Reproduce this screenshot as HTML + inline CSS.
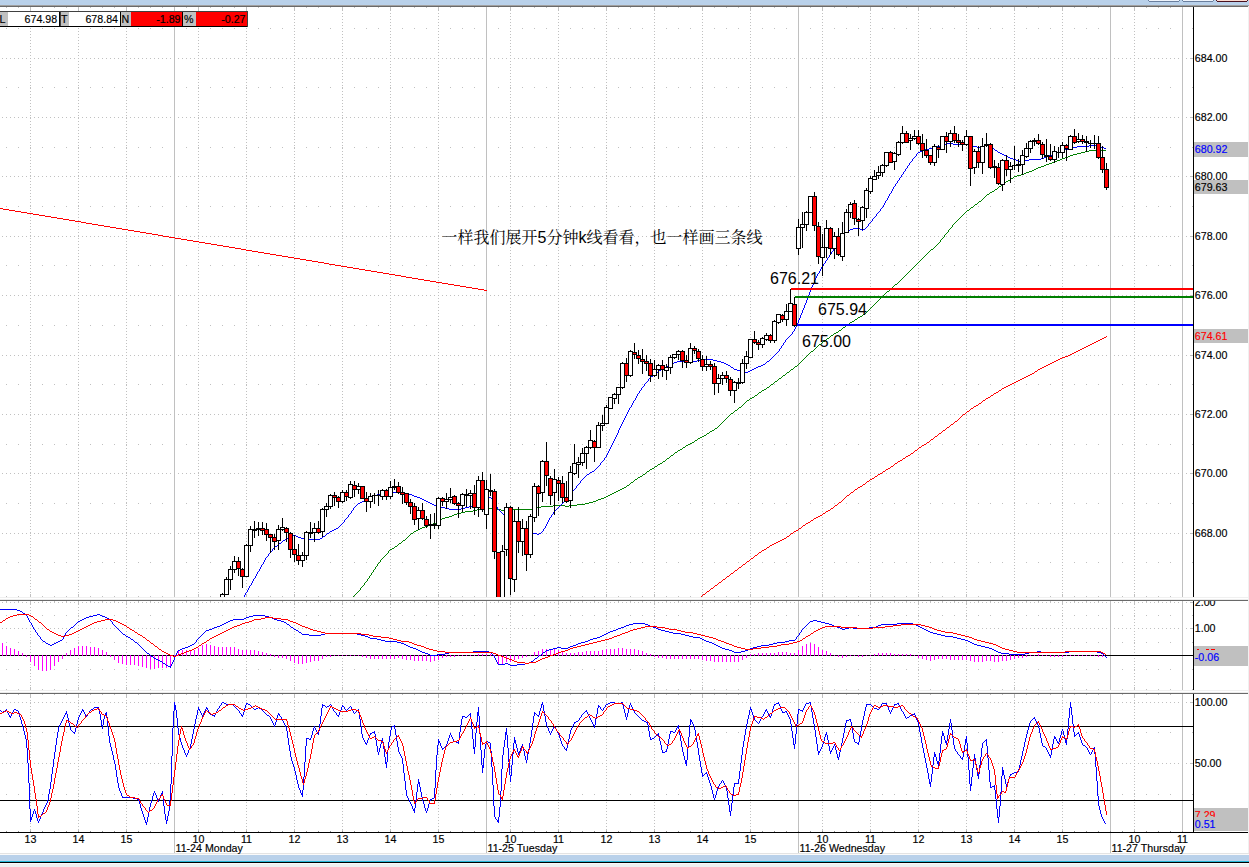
<!DOCTYPE html>
<html lang="zh"><head><meta charset="utf-8"><title>chart</title>
<style>html,body{margin:0;padding:0;background:#fff;}body{width:1249px;height:867px;overflow:hidden;}svg{display:block;}text{font-family:"Liberation Sans", Arial, sans-serif;font-size:10.67px;fill:#000;}.cj{font-family:"Liberation Sans","Noto Serif CJK SC","Noto Sans CJK SC",serif;font-size:16px;}.big{font-size:16px;}</style></head><body>
<svg width="1249" height="867" viewBox="0 0 1249 867" shape-rendering="crispEdges">
<rect x="0" y="0" width="1249" height="867" fill="#fff"/>
<line x1="30.5" y1="7" x2="30.5" y2="597" stroke="#c0c0c0" stroke-width="1" stroke-dasharray="1 2"/>
<rect x="30" y="7" width="1" height="4" fill="#c0c0c0"/>
<rect x="30" y="594" width="1" height="3" fill="#c0c0c0"/>
<line x1="78.5" y1="7" x2="78.5" y2="597" stroke="#c0c0c0" stroke-width="1" stroke-dasharray="1 2"/>
<rect x="78" y="7" width="1" height="4" fill="#c0c0c0"/>
<rect x="78" y="594" width="1" height="3" fill="#c0c0c0"/>
<line x1="126.5" y1="7" x2="126.5" y2="597" stroke="#c0c0c0" stroke-width="1" stroke-dasharray="1 2"/>
<rect x="126" y="7" width="1" height="4" fill="#c0c0c0"/>
<rect x="126" y="594" width="1" height="3" fill="#c0c0c0"/>
<line x1="198.5" y1="7" x2="198.5" y2="597" stroke="#c0c0c0" stroke-width="1" stroke-dasharray="1 2"/>
<rect x="198" y="7" width="1" height="4" fill="#c0c0c0"/>
<rect x="198" y="594" width="1" height="3" fill="#c0c0c0"/>
<line x1="246.5" y1="7" x2="246.5" y2="597" stroke="#c0c0c0" stroke-width="1" stroke-dasharray="1 2"/>
<rect x="246" y="7" width="1" height="4" fill="#c0c0c0"/>
<rect x="246" y="594" width="1" height="3" fill="#c0c0c0"/>
<line x1="294.5" y1="7" x2="294.5" y2="597" stroke="#c0c0c0" stroke-width="1" stroke-dasharray="1 2"/>
<rect x="294" y="7" width="1" height="4" fill="#c0c0c0"/>
<rect x="294" y="594" width="1" height="3" fill="#c0c0c0"/>
<line x1="342.5" y1="7" x2="342.5" y2="597" stroke="#c0c0c0" stroke-width="1" stroke-dasharray="1 2"/>
<rect x="342" y="7" width="1" height="4" fill="#c0c0c0"/>
<rect x="342" y="594" width="1" height="3" fill="#c0c0c0"/>
<line x1="390.5" y1="7" x2="390.5" y2="597" stroke="#c0c0c0" stroke-width="1" stroke-dasharray="1 2"/>
<rect x="390" y="7" width="1" height="4" fill="#c0c0c0"/>
<rect x="390" y="594" width="1" height="3" fill="#c0c0c0"/>
<line x1="438.5" y1="7" x2="438.5" y2="597" stroke="#c0c0c0" stroke-width="1" stroke-dasharray="1 2"/>
<rect x="438" y="7" width="1" height="4" fill="#c0c0c0"/>
<rect x="438" y="594" width="1" height="3" fill="#c0c0c0"/>
<line x1="510.5" y1="7" x2="510.5" y2="597" stroke="#c0c0c0" stroke-width="1" stroke-dasharray="1 2"/>
<rect x="510" y="7" width="1" height="4" fill="#c0c0c0"/>
<rect x="510" y="594" width="1" height="3" fill="#c0c0c0"/>
<line x1="558.5" y1="7" x2="558.5" y2="597" stroke="#c0c0c0" stroke-width="1" stroke-dasharray="1 2"/>
<rect x="558" y="7" width="1" height="4" fill="#c0c0c0"/>
<rect x="558" y="594" width="1" height="3" fill="#c0c0c0"/>
<line x1="606.5" y1="7" x2="606.5" y2="597" stroke="#c0c0c0" stroke-width="1" stroke-dasharray="1 2"/>
<rect x="606" y="7" width="1" height="4" fill="#c0c0c0"/>
<rect x="606" y="594" width="1" height="3" fill="#c0c0c0"/>
<line x1="654.5" y1="7" x2="654.5" y2="597" stroke="#c0c0c0" stroke-width="1" stroke-dasharray="1 2"/>
<rect x="654" y="7" width="1" height="4" fill="#c0c0c0"/>
<rect x="654" y="594" width="1" height="3" fill="#c0c0c0"/>
<line x1="702.5" y1="7" x2="702.5" y2="597" stroke="#c0c0c0" stroke-width="1" stroke-dasharray="1 2"/>
<rect x="702" y="7" width="1" height="4" fill="#c0c0c0"/>
<rect x="702" y="594" width="1" height="3" fill="#c0c0c0"/>
<line x1="750.5" y1="7" x2="750.5" y2="597" stroke="#c0c0c0" stroke-width="1" stroke-dasharray="1 2"/>
<rect x="750" y="7" width="1" height="4" fill="#c0c0c0"/>
<rect x="750" y="594" width="1" height="3" fill="#c0c0c0"/>
<line x1="822.5" y1="7" x2="822.5" y2="597" stroke="#c0c0c0" stroke-width="1" stroke-dasharray="1 2"/>
<rect x="822" y="7" width="1" height="4" fill="#c0c0c0"/>
<rect x="822" y="594" width="1" height="3" fill="#c0c0c0"/>
<line x1="870.5" y1="7" x2="870.5" y2="597" stroke="#c0c0c0" stroke-width="1" stroke-dasharray="1 2"/>
<rect x="870" y="7" width="1" height="4" fill="#c0c0c0"/>
<rect x="870" y="594" width="1" height="3" fill="#c0c0c0"/>
<line x1="918.5" y1="7" x2="918.5" y2="597" stroke="#c0c0c0" stroke-width="1" stroke-dasharray="1 2"/>
<rect x="918" y="7" width="1" height="4" fill="#c0c0c0"/>
<rect x="918" y="594" width="1" height="3" fill="#c0c0c0"/>
<line x1="966.5" y1="7" x2="966.5" y2="597" stroke="#c0c0c0" stroke-width="1" stroke-dasharray="1 2"/>
<rect x="966" y="7" width="1" height="4" fill="#c0c0c0"/>
<rect x="966" y="594" width="1" height="3" fill="#c0c0c0"/>
<line x1="1014.5" y1="7" x2="1014.5" y2="597" stroke="#c0c0c0" stroke-width="1" stroke-dasharray="1 2"/>
<rect x="1014" y="7" width="1" height="4" fill="#c0c0c0"/>
<rect x="1014" y="594" width="1" height="3" fill="#c0c0c0"/>
<line x1="1062.5" y1="7" x2="1062.5" y2="597" stroke="#c0c0c0" stroke-width="1" stroke-dasharray="1 2"/>
<rect x="1062" y="7" width="1" height="4" fill="#c0c0c0"/>
<rect x="1062" y="594" width="1" height="3" fill="#c0c0c0"/>
<line x1="1134.5" y1="7" x2="1134.5" y2="597" stroke="#c0c0c0" stroke-width="1" stroke-dasharray="1 2"/>
<rect x="1134" y="7" width="1" height="4" fill="#c0c0c0"/>
<rect x="1134" y="594" width="1" height="3" fill="#c0c0c0"/>
<line x1="6" y1="7.5" x2="1193" y2="7.5" stroke="#c0c0c0" stroke-width="1" stroke-dasharray="1 11"/>
<line x1="6" y1="596.5" x2="1193" y2="596.5" stroke="#c0c0c0" stroke-width="1" stroke-dasharray="1 11"/>
<rect x="174" y="7" width="1" height="590" fill="#c0c0c0"/>
<rect x="486" y="7" width="1" height="590" fill="#c0c0c0"/>
<rect x="798" y="7" width="1" height="590" fill="#c0c0c0"/>
<rect x="1110" y="7" width="1" height="590" fill="#c0c0c0"/>
<rect x="1182" y="7" width="1" height="590" fill="#c0c0c0"/>
<line x1="30.5" y1="601" x2="30.5" y2="690" stroke="#c0c0c0" stroke-width="1" stroke-dasharray="1 2"/>
<rect x="30" y="601" width="1" height="4" fill="#c0c0c0"/>
<rect x="30" y="687" width="1" height="3" fill="#c0c0c0"/>
<line x1="78.5" y1="601" x2="78.5" y2="690" stroke="#c0c0c0" stroke-width="1" stroke-dasharray="1 2"/>
<rect x="78" y="601" width="1" height="4" fill="#c0c0c0"/>
<rect x="78" y="687" width="1" height="3" fill="#c0c0c0"/>
<line x1="126.5" y1="601" x2="126.5" y2="690" stroke="#c0c0c0" stroke-width="1" stroke-dasharray="1 2"/>
<rect x="126" y="601" width="1" height="4" fill="#c0c0c0"/>
<rect x="126" y="687" width="1" height="3" fill="#c0c0c0"/>
<line x1="198.5" y1="601" x2="198.5" y2="690" stroke="#c0c0c0" stroke-width="1" stroke-dasharray="1 2"/>
<rect x="198" y="601" width="1" height="4" fill="#c0c0c0"/>
<rect x="198" y="687" width="1" height="3" fill="#c0c0c0"/>
<line x1="246.5" y1="601" x2="246.5" y2="690" stroke="#c0c0c0" stroke-width="1" stroke-dasharray="1 2"/>
<rect x="246" y="601" width="1" height="4" fill="#c0c0c0"/>
<rect x="246" y="687" width="1" height="3" fill="#c0c0c0"/>
<line x1="294.5" y1="601" x2="294.5" y2="690" stroke="#c0c0c0" stroke-width="1" stroke-dasharray="1 2"/>
<rect x="294" y="601" width="1" height="4" fill="#c0c0c0"/>
<rect x="294" y="687" width="1" height="3" fill="#c0c0c0"/>
<line x1="342.5" y1="601" x2="342.5" y2="690" stroke="#c0c0c0" stroke-width="1" stroke-dasharray="1 2"/>
<rect x="342" y="601" width="1" height="4" fill="#c0c0c0"/>
<rect x="342" y="687" width="1" height="3" fill="#c0c0c0"/>
<line x1="390.5" y1="601" x2="390.5" y2="690" stroke="#c0c0c0" stroke-width="1" stroke-dasharray="1 2"/>
<rect x="390" y="601" width="1" height="4" fill="#c0c0c0"/>
<rect x="390" y="687" width="1" height="3" fill="#c0c0c0"/>
<line x1="438.5" y1="601" x2="438.5" y2="690" stroke="#c0c0c0" stroke-width="1" stroke-dasharray="1 2"/>
<rect x="438" y="601" width="1" height="4" fill="#c0c0c0"/>
<rect x="438" y="687" width="1" height="3" fill="#c0c0c0"/>
<line x1="510.5" y1="601" x2="510.5" y2="690" stroke="#c0c0c0" stroke-width="1" stroke-dasharray="1 2"/>
<rect x="510" y="601" width="1" height="4" fill="#c0c0c0"/>
<rect x="510" y="687" width="1" height="3" fill="#c0c0c0"/>
<line x1="558.5" y1="601" x2="558.5" y2="690" stroke="#c0c0c0" stroke-width="1" stroke-dasharray="1 2"/>
<rect x="558" y="601" width="1" height="4" fill="#c0c0c0"/>
<rect x="558" y="687" width="1" height="3" fill="#c0c0c0"/>
<line x1="606.5" y1="601" x2="606.5" y2="690" stroke="#c0c0c0" stroke-width="1" stroke-dasharray="1 2"/>
<rect x="606" y="601" width="1" height="4" fill="#c0c0c0"/>
<rect x="606" y="687" width="1" height="3" fill="#c0c0c0"/>
<line x1="654.5" y1="601" x2="654.5" y2="690" stroke="#c0c0c0" stroke-width="1" stroke-dasharray="1 2"/>
<rect x="654" y="601" width="1" height="4" fill="#c0c0c0"/>
<rect x="654" y="687" width="1" height="3" fill="#c0c0c0"/>
<line x1="702.5" y1="601" x2="702.5" y2="690" stroke="#c0c0c0" stroke-width="1" stroke-dasharray="1 2"/>
<rect x="702" y="601" width="1" height="4" fill="#c0c0c0"/>
<rect x="702" y="687" width="1" height="3" fill="#c0c0c0"/>
<line x1="750.5" y1="601" x2="750.5" y2="690" stroke="#c0c0c0" stroke-width="1" stroke-dasharray="1 2"/>
<rect x="750" y="601" width="1" height="4" fill="#c0c0c0"/>
<rect x="750" y="687" width="1" height="3" fill="#c0c0c0"/>
<line x1="822.5" y1="601" x2="822.5" y2="690" stroke="#c0c0c0" stroke-width="1" stroke-dasharray="1 2"/>
<rect x="822" y="601" width="1" height="4" fill="#c0c0c0"/>
<rect x="822" y="687" width="1" height="3" fill="#c0c0c0"/>
<line x1="870.5" y1="601" x2="870.5" y2="690" stroke="#c0c0c0" stroke-width="1" stroke-dasharray="1 2"/>
<rect x="870" y="601" width="1" height="4" fill="#c0c0c0"/>
<rect x="870" y="687" width="1" height="3" fill="#c0c0c0"/>
<line x1="918.5" y1="601" x2="918.5" y2="690" stroke="#c0c0c0" stroke-width="1" stroke-dasharray="1 2"/>
<rect x="918" y="601" width="1" height="4" fill="#c0c0c0"/>
<rect x="918" y="687" width="1" height="3" fill="#c0c0c0"/>
<line x1="966.5" y1="601" x2="966.5" y2="690" stroke="#c0c0c0" stroke-width="1" stroke-dasharray="1 2"/>
<rect x="966" y="601" width="1" height="4" fill="#c0c0c0"/>
<rect x="966" y="687" width="1" height="3" fill="#c0c0c0"/>
<line x1="1014.5" y1="601" x2="1014.5" y2="690" stroke="#c0c0c0" stroke-width="1" stroke-dasharray="1 2"/>
<rect x="1014" y="601" width="1" height="4" fill="#c0c0c0"/>
<rect x="1014" y="687" width="1" height="3" fill="#c0c0c0"/>
<line x1="1062.5" y1="601" x2="1062.5" y2="690" stroke="#c0c0c0" stroke-width="1" stroke-dasharray="1 2"/>
<rect x="1062" y="601" width="1" height="4" fill="#c0c0c0"/>
<rect x="1062" y="687" width="1" height="3" fill="#c0c0c0"/>
<line x1="1134.5" y1="601" x2="1134.5" y2="690" stroke="#c0c0c0" stroke-width="1" stroke-dasharray="1 2"/>
<rect x="1134" y="601" width="1" height="4" fill="#c0c0c0"/>
<rect x="1134" y="687" width="1" height="3" fill="#c0c0c0"/>
<line x1="6" y1="601.5" x2="1193" y2="601.5" stroke="#c0c0c0" stroke-width="1" stroke-dasharray="1 11"/>
<line x1="6" y1="689.5" x2="1193" y2="689.5" stroke="#c0c0c0" stroke-width="1" stroke-dasharray="1 11"/>
<rect x="174" y="601" width="1" height="89" fill="#c0c0c0"/>
<rect x="486" y="601" width="1" height="89" fill="#c0c0c0"/>
<rect x="798" y="601" width="1" height="89" fill="#c0c0c0"/>
<rect x="1110" y="601" width="1" height="89" fill="#c0c0c0"/>
<rect x="1182" y="601" width="1" height="89" fill="#c0c0c0"/>
<line x1="30.5" y1="694" x2="30.5" y2="832" stroke="#c0c0c0" stroke-width="1" stroke-dasharray="1 2"/>
<rect x="30" y="694" width="1" height="4" fill="#c0c0c0"/>
<rect x="30" y="829" width="1" height="3" fill="#c0c0c0"/>
<line x1="78.5" y1="694" x2="78.5" y2="832" stroke="#c0c0c0" stroke-width="1" stroke-dasharray="1 2"/>
<rect x="78" y="694" width="1" height="4" fill="#c0c0c0"/>
<rect x="78" y="829" width="1" height="3" fill="#c0c0c0"/>
<line x1="126.5" y1="694" x2="126.5" y2="832" stroke="#c0c0c0" stroke-width="1" stroke-dasharray="1 2"/>
<rect x="126" y="694" width="1" height="4" fill="#c0c0c0"/>
<rect x="126" y="829" width="1" height="3" fill="#c0c0c0"/>
<line x1="198.5" y1="694" x2="198.5" y2="832" stroke="#c0c0c0" stroke-width="1" stroke-dasharray="1 2"/>
<rect x="198" y="694" width="1" height="4" fill="#c0c0c0"/>
<rect x="198" y="829" width="1" height="3" fill="#c0c0c0"/>
<line x1="246.5" y1="694" x2="246.5" y2="832" stroke="#c0c0c0" stroke-width="1" stroke-dasharray="1 2"/>
<rect x="246" y="694" width="1" height="4" fill="#c0c0c0"/>
<rect x="246" y="829" width="1" height="3" fill="#c0c0c0"/>
<line x1="294.5" y1="694" x2="294.5" y2="832" stroke="#c0c0c0" stroke-width="1" stroke-dasharray="1 2"/>
<rect x="294" y="694" width="1" height="4" fill="#c0c0c0"/>
<rect x="294" y="829" width="1" height="3" fill="#c0c0c0"/>
<line x1="342.5" y1="694" x2="342.5" y2="832" stroke="#c0c0c0" stroke-width="1" stroke-dasharray="1 2"/>
<rect x="342" y="694" width="1" height="4" fill="#c0c0c0"/>
<rect x="342" y="829" width="1" height="3" fill="#c0c0c0"/>
<line x1="390.5" y1="694" x2="390.5" y2="832" stroke="#c0c0c0" stroke-width="1" stroke-dasharray="1 2"/>
<rect x="390" y="694" width="1" height="4" fill="#c0c0c0"/>
<rect x="390" y="829" width="1" height="3" fill="#c0c0c0"/>
<line x1="438.5" y1="694" x2="438.5" y2="832" stroke="#c0c0c0" stroke-width="1" stroke-dasharray="1 2"/>
<rect x="438" y="694" width="1" height="4" fill="#c0c0c0"/>
<rect x="438" y="829" width="1" height="3" fill="#c0c0c0"/>
<line x1="510.5" y1="694" x2="510.5" y2="832" stroke="#c0c0c0" stroke-width="1" stroke-dasharray="1 2"/>
<rect x="510" y="694" width="1" height="4" fill="#c0c0c0"/>
<rect x="510" y="829" width="1" height="3" fill="#c0c0c0"/>
<line x1="558.5" y1="694" x2="558.5" y2="832" stroke="#c0c0c0" stroke-width="1" stroke-dasharray="1 2"/>
<rect x="558" y="694" width="1" height="4" fill="#c0c0c0"/>
<rect x="558" y="829" width="1" height="3" fill="#c0c0c0"/>
<line x1="606.5" y1="694" x2="606.5" y2="832" stroke="#c0c0c0" stroke-width="1" stroke-dasharray="1 2"/>
<rect x="606" y="694" width="1" height="4" fill="#c0c0c0"/>
<rect x="606" y="829" width="1" height="3" fill="#c0c0c0"/>
<line x1="654.5" y1="694" x2="654.5" y2="832" stroke="#c0c0c0" stroke-width="1" stroke-dasharray="1 2"/>
<rect x="654" y="694" width="1" height="4" fill="#c0c0c0"/>
<rect x="654" y="829" width="1" height="3" fill="#c0c0c0"/>
<line x1="702.5" y1="694" x2="702.5" y2="832" stroke="#c0c0c0" stroke-width="1" stroke-dasharray="1 2"/>
<rect x="702" y="694" width="1" height="4" fill="#c0c0c0"/>
<rect x="702" y="829" width="1" height="3" fill="#c0c0c0"/>
<line x1="750.5" y1="694" x2="750.5" y2="832" stroke="#c0c0c0" stroke-width="1" stroke-dasharray="1 2"/>
<rect x="750" y="694" width="1" height="4" fill="#c0c0c0"/>
<rect x="750" y="829" width="1" height="3" fill="#c0c0c0"/>
<line x1="822.5" y1="694" x2="822.5" y2="832" stroke="#c0c0c0" stroke-width="1" stroke-dasharray="1 2"/>
<rect x="822" y="694" width="1" height="4" fill="#c0c0c0"/>
<rect x="822" y="829" width="1" height="3" fill="#c0c0c0"/>
<line x1="870.5" y1="694" x2="870.5" y2="832" stroke="#c0c0c0" stroke-width="1" stroke-dasharray="1 2"/>
<rect x="870" y="694" width="1" height="4" fill="#c0c0c0"/>
<rect x="870" y="829" width="1" height="3" fill="#c0c0c0"/>
<line x1="918.5" y1="694" x2="918.5" y2="832" stroke="#c0c0c0" stroke-width="1" stroke-dasharray="1 2"/>
<rect x="918" y="694" width="1" height="4" fill="#c0c0c0"/>
<rect x="918" y="829" width="1" height="3" fill="#c0c0c0"/>
<line x1="966.5" y1="694" x2="966.5" y2="832" stroke="#c0c0c0" stroke-width="1" stroke-dasharray="1 2"/>
<rect x="966" y="694" width="1" height="4" fill="#c0c0c0"/>
<rect x="966" y="829" width="1" height="3" fill="#c0c0c0"/>
<line x1="1014.5" y1="694" x2="1014.5" y2="832" stroke="#c0c0c0" stroke-width="1" stroke-dasharray="1 2"/>
<rect x="1014" y="694" width="1" height="4" fill="#c0c0c0"/>
<rect x="1014" y="829" width="1" height="3" fill="#c0c0c0"/>
<line x1="1062.5" y1="694" x2="1062.5" y2="832" stroke="#c0c0c0" stroke-width="1" stroke-dasharray="1 2"/>
<rect x="1062" y="694" width="1" height="4" fill="#c0c0c0"/>
<rect x="1062" y="829" width="1" height="3" fill="#c0c0c0"/>
<line x1="1134.5" y1="694" x2="1134.5" y2="832" stroke="#c0c0c0" stroke-width="1" stroke-dasharray="1 2"/>
<rect x="1134" y="694" width="1" height="4" fill="#c0c0c0"/>
<rect x="1134" y="829" width="1" height="3" fill="#c0c0c0"/>
<line x1="6" y1="694.5" x2="1193" y2="694.5" stroke="#c0c0c0" stroke-width="1" stroke-dasharray="1 11"/>
<line x1="6" y1="831.5" x2="1193" y2="831.5" stroke="#c0c0c0" stroke-width="1" stroke-dasharray="1 11"/>
<rect x="174" y="694" width="1" height="138" fill="#c0c0c0"/>
<rect x="486" y="694" width="1" height="138" fill="#c0c0c0"/>
<rect x="798" y="694" width="1" height="138" fill="#c0c0c0"/>
<rect x="1110" y="694" width="1" height="138" fill="#c0c0c0"/>
<rect x="1182" y="694" width="1" height="138" fill="#c0c0c0"/>
<rect x="174" y="832" width="1" height="21" fill="#c0c0c0"/>
<rect x="486" y="832" width="1" height="21" fill="#c0c0c0"/>
<rect x="798" y="832" width="1" height="21" fill="#c0c0c0"/>
<rect x="1110" y="832" width="1" height="21" fill="#c0c0c0"/>
<line x1="6" y1="562.5" x2="1193" y2="562.5" stroke="#c0c0c0" stroke-width="1" stroke-dasharray="1 11"/>
<rect x="1192" y="562" width="1" height="1" fill="#c0c0c0"/>
<line x1="2" y1="533.5" x2="1193" y2="533.5" stroke="#c0c0c0" stroke-width="1" stroke-dasharray="1 3"/>
<rect x="1190" y="533" width="3" height="1" fill="#c0c0c0"/>
<line x1="6" y1="503.5" x2="1193" y2="503.5" stroke="#c0c0c0" stroke-width="1" stroke-dasharray="1 11"/>
<rect x="1192" y="503" width="1" height="1" fill="#c0c0c0"/>
<line x1="2" y1="473.5" x2="1193" y2="473.5" stroke="#c0c0c0" stroke-width="1" stroke-dasharray="1 3"/>
<rect x="1190" y="473" width="3" height="1" fill="#c0c0c0"/>
<line x1="6" y1="444.5" x2="1193" y2="444.5" stroke="#c0c0c0" stroke-width="1" stroke-dasharray="1 11"/>
<rect x="1192" y="444" width="1" height="1" fill="#c0c0c0"/>
<line x1="2" y1="414.5" x2="1193" y2="414.5" stroke="#c0c0c0" stroke-width="1" stroke-dasharray="1 3"/>
<rect x="1190" y="414" width="3" height="1" fill="#c0c0c0"/>
<line x1="6" y1="384.5" x2="1193" y2="384.5" stroke="#c0c0c0" stroke-width="1" stroke-dasharray="1 11"/>
<rect x="1192" y="384" width="1" height="1" fill="#c0c0c0"/>
<line x1="2" y1="355.5" x2="1193" y2="355.5" stroke="#c0c0c0" stroke-width="1" stroke-dasharray="1 3"/>
<rect x="1190" y="355" width="3" height="1" fill="#c0c0c0"/>
<line x1="6" y1="325.5" x2="1193" y2="325.5" stroke="#c0c0c0" stroke-width="1" stroke-dasharray="1 11"/>
<rect x="1192" y="325" width="1" height="1" fill="#c0c0c0"/>
<line x1="2" y1="295.5" x2="1193" y2="295.5" stroke="#c0c0c0" stroke-width="1" stroke-dasharray="1 3"/>
<rect x="1190" y="295" width="3" height="1" fill="#c0c0c0"/>
<line x1="6" y1="265.5" x2="1193" y2="265.5" stroke="#c0c0c0" stroke-width="1" stroke-dasharray="1 11"/>
<rect x="1192" y="265" width="1" height="1" fill="#c0c0c0"/>
<line x1="2" y1="236.5" x2="1193" y2="236.5" stroke="#c0c0c0" stroke-width="1" stroke-dasharray="1 3"/>
<rect x="1190" y="236" width="3" height="1" fill="#c0c0c0"/>
<line x1="6" y1="206.5" x2="1193" y2="206.5" stroke="#c0c0c0" stroke-width="1" stroke-dasharray="1 11"/>
<rect x="1192" y="206" width="1" height="1" fill="#c0c0c0"/>
<line x1="2" y1="176.5" x2="1193" y2="176.5" stroke="#c0c0c0" stroke-width="1" stroke-dasharray="1 3"/>
<rect x="1190" y="176" width="3" height="1" fill="#c0c0c0"/>
<line x1="6" y1="147.5" x2="1193" y2="147.5" stroke="#c0c0c0" stroke-width="1" stroke-dasharray="1 11"/>
<rect x="1192" y="147" width="1" height="1" fill="#c0c0c0"/>
<line x1="2" y1="117.5" x2="1193" y2="117.5" stroke="#c0c0c0" stroke-width="1" stroke-dasharray="1 3"/>
<rect x="1190" y="117" width="3" height="1" fill="#c0c0c0"/>
<line x1="6" y1="87.5" x2="1193" y2="87.5" stroke="#c0c0c0" stroke-width="1" stroke-dasharray="1 11"/>
<rect x="1192" y="87" width="1" height="1" fill="#c0c0c0"/>
<line x1="2" y1="58.5" x2="1193" y2="58.5" stroke="#c0c0c0" stroke-width="1" stroke-dasharray="1 3"/>
<rect x="1190" y="58" width="3" height="1" fill="#c0c0c0"/>
<line x1="6" y1="28.5" x2="1193" y2="28.5" stroke="#c0c0c0" stroke-width="1" stroke-dasharray="1 11"/>
<rect x="1192" y="28" width="1" height="1" fill="#c0c0c0"/>
<line x1="6" y1="7.5" x2="1193" y2="7.5" stroke="#c0c0c0" stroke-width="1" stroke-dasharray="1 11"/>
<line x1="6" y1="596.5" x2="1193" y2="596.5" stroke="#c0c0c0" stroke-width="1" stroke-dasharray="1 11"/>
<line x1="2" y1="602.5" x2="1193" y2="602.5" stroke="#c0c0c0" stroke-width="1" stroke-dasharray="1 3"/>
<rect x="1190" y="602" width="3" height="1" fill="#c0c0c0"/>
<line x1="6" y1="615.5" x2="1193" y2="615.5" stroke="#c0c0c0" stroke-width="1" stroke-dasharray="1 11"/>
<rect x="1192" y="615" width="1" height="1" fill="#c0c0c0"/>
<line x1="2" y1="628.5" x2="1193" y2="628.5" stroke="#c0c0c0" stroke-width="1" stroke-dasharray="1 3"/>
<rect x="1190" y="628" width="3" height="1" fill="#c0c0c0"/>
<line x1="6" y1="642.5" x2="1193" y2="642.5" stroke="#c0c0c0" stroke-width="1" stroke-dasharray="1 11"/>
<rect x="1192" y="642" width="1" height="1" fill="#c0c0c0"/>
<line x1="6" y1="669.5" x2="1193" y2="669.5" stroke="#c0c0c0" stroke-width="1" stroke-dasharray="1 11"/>
<rect x="1192" y="669" width="1" height="1" fill="#c0c0c0"/>
<line x1="6" y1="689.5" x2="1193" y2="689.5" stroke="#c0c0c0" stroke-width="1" stroke-dasharray="1 11"/>
<rect x="1192" y="689" width="1" height="1" fill="#c0c0c0"/>
<line x1="2" y1="702.5" x2="1193" y2="702.5" stroke="#c0c0c0" stroke-width="1" stroke-dasharray="1 3"/>
<rect x="1190" y="702" width="3" height="1" fill="#c0c0c0"/>
<line x1="6" y1="732.5" x2="1193" y2="732.5" stroke="#c0c0c0" stroke-width="1" stroke-dasharray="1 11"/>
<rect x="1192" y="732" width="1" height="1" fill="#c0c0c0"/>
<line x1="2" y1="763.5" x2="1193" y2="763.5" stroke="#c0c0c0" stroke-width="1" stroke-dasharray="1 3"/>
<rect x="1190" y="763" width="3" height="1" fill="#c0c0c0"/>
<line x1="6" y1="794.5" x2="1193" y2="794.5" stroke="#c0c0c0" stroke-width="1" stroke-dasharray="1 11"/>
<rect x="1192" y="794" width="1" height="1" fill="#c0c0c0"/>
<line x1="6" y1="831.5" x2="1193" y2="831.5" stroke="#909090" stroke-width="1" stroke-dasharray="1 11"/>
<clipPath id="cp1"><rect x="0" y="7" width="1193" height="590"/></clipPath>
<g clip-path="url(#cp1)">
<path fill="none" stroke="#ff0000" stroke-width="1" d="M0 208.5h3M3 209.5h6M9 210.5h6M15 211.5h6M21 212.5h6M27 213.5h6M33 214.5h6M39 215.5h6M45 216.5h6M51 217.5h6M57 218.5h6M63 219.5h6M69 220.5h6M75 221.5h6M81 222.5h5M86 223.5h6M92 224.5h6M98 225.5h6M104 226.5h6M110 227.5h6M116 228.5h6M122 229.5h6M128 230.5h6M134 231.5h6M140 232.5h6M146 233.5h6M152 234.5h6M158 235.5h5M163 236.5h6M169 237.5h6M175 238.5h6M181 239.5h6M187 240.5h6M193 241.5h6M199 242.5h6M205 243.5h6M211 244.5h6M217 245.5h6M223 246.5h6M229 247.5h6M235 248.5h6M241 249.5h5M246 250.5h6M252 251.5h6M258 252.5h6M264 253.5h6M270 254.5h6M276 255.5h6M282 256.5h6M288 257.5h6M294 258.5h6M300 259.5h6M306 260.5h6M312 261.5h6M318 262.5h6M324 263.5h5M329 264.5h6M335 265.5h6M341 266.5h6M347 267.5h6M353 268.5h6M359 269.5h6M365 270.5h6M371 271.5h6M377 272.5h6M383 273.5h6M389 274.5h6M395 275.5h6M401 276.5h5M406 277.5h6M412 278.5h6M418 279.5h6M424 280.5h6M430 281.5h6M436 282.5h6M442 283.5h6M448 284.5h6M454 285.5h6M460 286.5h6M466 287.5h6M472 288.5h6M478 289.5h6M484 290.5h3"/>
<path fill="none" stroke="#ff0000" stroke-width="1" d="M701 596.5h1M702 595.5h1M703 594.5h2M705 593.5h1M706 592.5h1M707 591.5h2M709 590.5h1M710 589.5h1M711 588.5h2M713 587.5h1M714 586.5h1M715 585.5h2M717 584.5h1M718 583.5h1M719 582.5h2M721 581.5h1M722 580.5h1M723 579.5h2M725 578.5h1M726 577.5h1M727 576.5h2M729 575.5h1M730 574.5h1M731 573.5h2M733 572.5h1M734 571.5h1M735 570.5h2M737 569.5h1M738 568.5h1M739 567.5h2M741 566.5h1M742 565.5h1M743 564.5h2M745 563.5h1M746 562.5h1M747 561.5h2M749 560.5h1M750 559.5h1M751 558.5h2M753 557.5h1M754 556.5h1M755 555.5h2M757 554.5h1M758 553.5h1M759 552.5h2M761 551.5h1M762 550.5h2M764 549.5h2M766 548.5h1M767 547.5h2M769 546.5h1M770 545.5h2M772 544.5h2M774 543.5h2M776 542.5h2M778 541.5h2M780 540.5h2M782 539.5h2M784 538.5h2M786 537.5h1M787 536.5h2M789 535.5h1M790 534.5h1M791 533.5h2M793 532.5h1M794 531.5h2M796 530.5h2M798 529.5h1M799 528.5h2M801 527.5h1M802 526.5h1M803 525.5h2M805 524.5h1M806 523.5h2M808 522.5h2M810 521.5h1M811 520.5h2M813 519.5h1M814 518.5h2M816 517.5h2M818 516.5h2M820 515.5h2M822 514.5h1M823 513.5h2M825 512.5h1M826 511.5h2M828 510.5h2M830 509.5h1M831 508.5h2M833 507.5h1M834 506.5h1M835 505.5h2M837 504.5h1M838 503.5h1M839 502.5h2M841 501.5h1M842 500.5h1M843 499.5h1M844 498.5h1M845 497.5h1M846 496.5h1M847 495.5h2M849 494.5h1M850 493.5h1M851 492.5h2M853 491.5h1M854 490.5h1M855 489.5h2M857 488.5h1M858 487.5h2M860 486.5h2M862 485.5h1M863 484.5h2M865 483.5h1M866 482.5h1M867 481.5h2M869 480.5h1M870 479.5h2M872 478.5h2M874 477.5h1M875 476.5h2M877 475.5h1M878 474.5h2M880 473.5h2M882 472.5h1M883 471.5h2M885 470.5h1M886 469.5h2M888 468.5h2M890 467.5h1M891 466.5h2M893 465.5h1M894 464.5h1M895 463.5h2M897 462.5h1M898 461.5h2M900 460.5h2M902 459.5h1M903 458.5h2M905 457.5h1M906 456.5h2M908 455.5h2M910 454.5h1M911 453.5h2M913 452.5h1M914 451.5h1M915 450.5h2M917 449.5h1M918 448.5h1M919 447.5h2M921 446.5h1M922 445.5h2M924 444.5h2M926 443.5h1M927 442.5h2M929 441.5h1M930 440.5h1M931 439.5h2M933 438.5h1M934 437.5h1M935 436.5h2M937 435.5h1M938 434.5h1M939 433.5h2M941 432.5h1M942 431.5h1M943 430.5h2M945 429.5h1M946 428.5h1M947 427.5h2M949 426.5h1M950 425.5h1M951 424.5h2M953 423.5h1M954 422.5h1M955 421.5h2M957 420.5h1M958 419.5h1M959 418.5h1M960 417.5h1M961 416.5h1M962 415.5h1M963 414.5h2M965 413.5h1M966 412.5h1M967 411.5h2M969 410.5h1M970 409.5h1M971 408.5h2M973 407.5h1M974 406.5h2M976 405.5h2M978 404.5h1M979 403.5h2M981 402.5h1M982 401.5h1M983 400.5h2M985 399.5h1M986 398.5h2M988 397.5h2M990 396.5h1M991 395.5h2M993 394.5h1M994 393.5h2M996 392.5h2M998 391.5h1M999 390.5h2M1001 389.5h1M1002 388.5h2M1004 387.5h2M1006 386.5h2M1008 385.5h2M1010 384.5h2M1012 383.5h2M1014 382.5h2M1016 381.5h2M1018 380.5h2M1020 379.5h2M1022 378.5h2M1024 377.5h2M1026 376.5h2M1028 375.5h2M1030 374.5h2M1032 373.5h2M1034 372.5h1M1035 371.5h2M1037 370.5h1M1038 369.5h2M1040 368.5h2M1042 367.5h2M1044 366.5h2M1046 365.5h2M1048 364.5h2M1050 363.5h2M1052 362.5h2M1054 361.5h2M1056 360.5h2M1058 359.5h2M1060 358.5h2M1062 357.5h3M1065 356.5h3M1068 355.5h2M1070 354.5h2M1072 353.5h2M1074 352.5h2M1076 351.5h2M1078 350.5h2M1080 349.5h2M1082 348.5h2M1084 347.5h2M1086 346.5h2M1088 345.5h2M1090 344.5h2M1092 343.5h2M1094 342.5h2M1096 341.5h2M1098 340.5h2M1100 339.5h2M1102 338.5h2M1104 337.5h2M1106 336.5h1"/>
<path fill="none" stroke="#008000" stroke-width="1" d="M353 596.5h1M354 595.5h1M355 594.5h1M356 593.5h1M357 592.5h1M358 591.5h1M359 590.5h1M360.5 588v2M361 587.5h1M362 586.5h1M363 585.5h1M364.5 583v2M365 582.5h1M366 581.5h1M367.5 579v2M368 578.5h1M369.5 576v2M370 575.5h1M371.5 573v2M372 572.5h1M373.5 570v2M374 569.5h1M375.5 567v2M376 566.5h1M377.5 564v2M378 563.5h1M379 562.5h1M380.5 560v2M381 559.5h1M382 558.5h1M383 557.5h1M384 556.5h1M385 555.5h1M386 554.5h1M387 553.5h1M388.5 551v2M389 550.5h1M390 549.5h2M392 548.5h2M394 547.5h1M395 546.5h2M397 545.5h1M398 544.5h1M399 543.5h2M401 542.5h1M402 541.5h1M403 540.5h2M405 539.5h1M406 538.5h1M407 537.5h1M408 536.5h1M409 535.5h1M410 534.5h1M411 533.5h2M413 532.5h1M414 531.5h2M416 530.5h2M418 529.5h2M420 528.5h2M422 527.5h3M425 526.5h3M428 525.5h2M430 524.5h3M433 523.5h3M436 522.5h2M438 521.5h1M439 520.5h2M441 519.5h1M442 518.5h3M445 517.5h4M449 516.5h3M452 515.5h2M454 514.5h3M457 513.5h4M461 512.5h4M465 511.5h8M473 510.5h4M477 509.5h8M485 508.5h8M493 509.5h8M501 510.5h8M509 509.5h24M533 508.5h4M537 507.5h4M541 506.5h12M553 505.5h12M565 506.5h4M569 505.5h8M577 504.5h8M585 503.5h4M589 502.5h4M593 501.5h3M596 500.5h2M598 499.5h3M601 498.5h3M604 497.5h2M606 496.5h2M608 495.5h2M610 494.5h2M612 493.5h2M614 492.5h2M616 491.5h2M618 490.5h2M620 489.5h2M622 488.5h2M624 487.5h2M626 486.5h1M627 485.5h2M629 484.5h1M630 483.5h1M631 482.5h2M633 481.5h1M634 480.5h1M635 479.5h2M637 478.5h1M638 477.5h2M640 476.5h2M642 475.5h1M643 474.5h2M645 473.5h1M646 472.5h1M647 471.5h2M649 470.5h1M650 469.5h2M652 468.5h2M654 467.5h1M655 466.5h2M657 465.5h1M658 464.5h2M660 463.5h2M662 462.5h1M663 461.5h2M665 460.5h1M666 459.5h1M667 458.5h2M669 457.5h1M670 456.5h1M671 455.5h2M673 454.5h1M674 453.5h1M675 452.5h2M677 451.5h1M678 450.5h2M680 449.5h2M682 448.5h1M683 447.5h2M685 446.5h1M686 445.5h2M688 444.5h2M690 443.5h2M692 442.5h2M694 441.5h1M695 440.5h2M697 439.5h1M698 438.5h2M700 437.5h2M702 436.5h2M704 435.5h2M706 434.5h1M707 433.5h2M709 432.5h1M710 431.5h2M712 430.5h2M714 429.5h1M715 428.5h2M717 427.5h1M718 426.5h1M719 425.5h1M720 424.5h1M721 423.5h1M722 422.5h1M723 421.5h1M724 420.5h1M725 419.5h1M726 418.5h1M727 417.5h1M728 416.5h1M729 415.5h1M730 414.5h1M731 413.5h2M733 412.5h1M734 411.5h1M735 410.5h2M737 409.5h1M738 408.5h1M739 407.5h2M741 406.5h1M742 405.5h1M743 404.5h1M744 403.5h1M745 402.5h1M746 401.5h1M747 400.5h2M749 399.5h1M750 398.5h2M752 397.5h2M754 396.5h1M755 395.5h2M757 394.5h1M758 393.5h1M759 392.5h2M761 391.5h1M762 390.5h2M764 389.5h2M766 388.5h1M767 387.5h2M769 386.5h1M770 385.5h1M771 384.5h2M773 383.5h1M774 382.5h1M775 381.5h2M777 380.5h1M778 379.5h1M779 378.5h2M781 377.5h1M782 376.5h1M783 375.5h2M785 374.5h1M786 373.5h1M787 372.5h2M789 371.5h1M790 370.5h1M791 369.5h2M793 368.5h1M794 367.5h1M795 366.5h2M797 365.5h1M798 364.5h1M799 363.5h1M800 362.5h1M801 361.5h1M802 360.5h1M803 359.5h1M804 358.5h1M805 357.5h1M806 356.5h1M807 355.5h1M808 354.5h1M809 353.5h1M810 352.5h1M811 351.5h2M813 350.5h1M814 349.5h1M815 348.5h1M816 347.5h1M817 346.5h1M818 345.5h1M819 344.5h2M821 343.5h1M822 342.5h1M823 341.5h2M825 340.5h1M826 339.5h1M827 338.5h2M829 337.5h1M830 336.5h1M831 335.5h2M833 334.5h1M834 333.5h2M836 332.5h2M838 331.5h1M839 330.5h2M841 329.5h1M842 328.5h1M843 327.5h2M845 326.5h1M846 325.5h1M847 324.5h2M849 323.5h1M850 322.5h2M852 321.5h2M854 320.5h1M855 319.5h2M857 318.5h1M858 317.5h2M860 316.5h2M862 315.5h1M863 314.5h2M865 313.5h1M866 312.5h1M867 311.5h1M868 310.5h1M869 309.5h1M870 308.5h1M871 307.5h1M872 306.5h1M873 305.5h1M874 304.5h1M875 303.5h1M876 302.5h1M877 301.5h1M878 300.5h1M879 299.5h1M880 298.5h1M881 297.5h1M882 296.5h1M883 295.5h1M884 294.5h1M885 293.5h1M886 292.5h1M887 291.5h2M889 290.5h1M890 289.5h1M891 288.5h1M892 287.5h1M893 286.5h1M894 285.5h1M895 284.5h2M897 283.5h1M898 282.5h1M899 281.5h1M900 280.5h1M901 279.5h1M902 278.5h1M903 277.5h1M904 276.5h1M905 275.5h1M906 274.5h1M907 273.5h1M908 272.5h1M909 271.5h1M910 270.5h1M911 269.5h1M912 268.5h1M913 267.5h1M914 266.5h1M915 265.5h1M916 264.5h1M917 263.5h1M918 262.5h1M919 261.5h1M920 260.5h1M921 259.5h1M922 258.5h1M923 257.5h1M924 256.5h1M925 255.5h1M926 254.5h1M927 253.5h1M928 252.5h1M929 251.5h1M930 250.5h1M931 249.5h2M933 248.5h1M934 247.5h1M935 246.5h1M936 245.5h1M937 244.5h1M938 243.5h1M939 242.5h1M940.5 240v2M941 239.5h1M942 238.5h1M943 237.5h1M944.5 235v2M945 234.5h1M946 233.5h1M947 232.5h1M948.5 230v2M949 229.5h1M950 228.5h1M951 227.5h1M952.5 225v2M953 224.5h1M954 223.5h1M955 222.5h1M956 221.5h1M957 220.5h1M958 219.5h1M959 218.5h1M960 217.5h1M961 216.5h1M962 215.5h1M963 214.5h1M964 213.5h1M965 212.5h1M966 211.5h1M967 210.5h2M969 209.5h1M970 208.5h1M971 207.5h2M973 206.5h1M974 205.5h1M975 204.5h2M977 203.5h1M978 202.5h1M979 201.5h2M981 200.5h1M982 199.5h1M983 198.5h1M984 197.5h1M985 196.5h1M986 195.5h1M987 194.5h2M989 193.5h1M990 192.5h2M992 191.5h2M994 190.5h1M995 189.5h2M997 188.5h1M998 187.5h1M999 186.5h2M1001 185.5h1M1002 184.5h1M1003 183.5h2M1005 182.5h1M1006 181.5h2M1008 180.5h2M1010 179.5h1M1011 178.5h2M1013 177.5h1M1014 176.5h3M1017 175.5h4M1021 174.5h3M1024 173.5h2M1026 172.5h3M1029 171.5h3M1032 170.5h2M1034 169.5h2M1036 168.5h2M1038 167.5h3M1041 166.5h3M1044 165.5h2M1046 164.5h3M1049 163.5h3M1052 162.5h2M1054 161.5h3M1057 160.5h3M1060 159.5h2M1062 158.5h3M1065 157.5h3M1068 156.5h2M1070 155.5h3M1073 154.5h4M1077 153.5h4M1081 152.5h4M1085 151.5h4M1089 150.5h17"/>
<path fill="none" stroke="#0000ff" stroke-width="1" d="M244.5 595v2M245.5 593v2M246 592.5h1M247.5 590v2M248.5 588v2M249.5 586v2M250 585.5h1M251.5 583v2M252.5 581v2M253.5 579v2M254 578.5h1M255.5 576v2M256.5 574v2M257.5 572v2M258 571.5h1M259.5 569v2M260.5 567v2M261.5 565v2M262 564.5h1M263.5 562v2M264.5 560v2M265.5 558v2M266 557.5h1M267 556.5h1M268.5 554v2M269 553.5h1M270 552.5h1M271 551.5h1M272.5 549v2M273 548.5h1M274 547.5h1M275 546.5h2M277 545.5h1M278 544.5h1M279 543.5h2M281 542.5h1M282 541.5h1M283 540.5h2M285 539.5h1M286 538.5h2M288 537.5h2M290 536.5h3M293 535.5h3M296 536.5h2M298 537.5h3M301 538.5h4M305 539.5h15M320 538.5h2M322 537.5h1M323 536.5h2M325 535.5h1M326 534.5h1M327 533.5h2M329 532.5h1M330 531.5h2M332 530.5h2M334 529.5h2M336 528.5h2M338 527.5h1M339 526.5h1M340 525.5h1M341 524.5h1M342 523.5h1M343 522.5h1M344.5 520v2M345 519.5h1M346 518.5h1M347 517.5h1M348.5 515v2M349 514.5h1M350 513.5h1M351.5 511v2M352 510.5h1M353.5 508v2M354 507.5h1M355 506.5h1M356 505.5h1M357 504.5h1M358 503.5h2M360 502.5h2M362 501.5h2M364 500.5h2M366 499.5h1M367 498.5h2M369 497.5h1M370 496.5h3M373 495.5h4M377 494.5h4M381 493.5h8M389 492.5h16M405 493.5h4M409 494.5h3M412 495.5h2M414 496.5h3M417 497.5h3M420 498.5h2M422 499.5h2M424 500.5h2M426 501.5h2M428 502.5h2M430 503.5h2M432 504.5h2M434 505.5h2M436 506.5h2M438 507.5h7M445 508.5h4M449 509.5h12M461 508.5h4M465 507.5h4M469 506.5h7M476 505.5h2M478 504.5h2M480 503.5h2M482 502.5h1M483 501.5h1M484 500.5h1M485 499.5h1M486 498.5h3M489 497.5h2M491 498.5h1M492.5 499v2M493 501.5h1M494 502.5h1M495.5 503v2M496.5 505v2M497.5 507v2M498 509.5h1M499 510.5h1M500 511.5h1M501 512.5h1M502 513.5h1M503 514.5h2M505 515.5h1M506 516.5h1M507 517.5h2M509 518.5h1M510 519.5h1M511 520.5h1M512 521.5h1M513 522.5h1M514 523.5h1M515 524.5h2M517 525.5h1M518 526.5h1M519 527.5h2M521 528.5h1M522 529.5h2M524 530.5h2M526 531.5h3M529 532.5h4M533 533.5h4M537 534.5h2M539 533.5h2M541 532.5h1M542 531.5h1M543.5 529v2M544 528.5h1M545.5 526v2M546.5 524v2M547.5 522v2M548.5 520v2M549.5 518v2M550 517.5h1M551.5 515v2M552 514.5h1M553.5 512v2M554 511.5h1M555 510.5h1M556 509.5h1M557 508.5h1M558 507.5h1M559 506.5h1M560 505.5h1M561 504.5h1M562 503.5h1M563 502.5h1M564.5 500v2M565 499.5h1M566 498.5h1M567 497.5h1M568 496.5h1M569 495.5h1M570 494.5h1M571 493.5h1M572.5 491v2M573 490.5h1M574 489.5h1M575 488.5h1M576.5 486v2M577 485.5h1M578 484.5h1M579 483.5h1M580.5 481v2M581 480.5h1M582 479.5h1M583 478.5h1M584 477.5h1M585 476.5h1M586 475.5h1M587 474.5h2M589 473.5h1M590 472.5h2M592 471.5h2M594 470.5h1M595 469.5h1M596 468.5h1M597 467.5h1M598 466.5h1M599 465.5h1M600.5 463v2M601 462.5h1M602 461.5h1M603 460.5h1M604.5 458v2M605 457.5h1M606.5 455v2M607.5 453v2M608.5 451v2M609.5 449v2M610.5 447v2M611.5 445v2M612.5 443v2M613.5 441v2M614.5 439v2M615.5 437v2M616.5 435v2M617.5 433v2M618.5 430v3M619.5 428v2M620.5 426v2M621.5 424v2M622.5 422v2M623.5 420v2M624.5 418v2M625.5 416v2M626.5 414v2M627.5 412v2M628.5 410v2M629.5 408v2M630 407.5h1M631.5 405v2M632.5 403v2M633.5 401v2M634 400.5h1M635.5 398v2M636.5 396v2M637.5 394v2M638 393.5h1M639.5 391v2M640 390.5h1M641.5 388v2M642 387.5h1M643 386.5h1M644.5 384v2M645 383.5h1M646 382.5h1M647 381.5h1M648.5 379v2M649 378.5h1M650 377.5h1M651 376.5h2M653 375.5h1M654 374.5h1M655 373.5h2M657 372.5h1M658 371.5h1M659 370.5h2M661 369.5h1M662 368.5h2M664 367.5h2M666 366.5h2M668 365.5h2M670 364.5h2M672 363.5h2M674 362.5h3M677 361.5h12M689 362.5h4M693 361.5h4M697 360.5h4M701 359.5h12M713 360.5h4M717 361.5h4M721 362.5h3M724 363.5h2M726 364.5h2M728 365.5h2M730 366.5h1M731 367.5h2M733 368.5h1M734 369.5h3M737 370.5h4M741 371.5h4M745 372.5h3M748 371.5h2M750 370.5h2M752 369.5h2M754 368.5h2M756 367.5h2M758 366.5h3M761 365.5h2M763 364.5h2M765 363.5h1M766 362.5h1M767 361.5h2M769 360.5h1M770 359.5h1M771 358.5h1M772 357.5h1M773 356.5h1M774 355.5h1M775 354.5h1M776 353.5h1M777 352.5h1M778 351.5h1M779.5 349v2M780 348.5h1M781.5 346v2M782 345.5h1M783.5 343v2M784 342.5h1M785.5 340v2M786 339.5h1M787 338.5h1M788 337.5h1M789 336.5h1M790 335.5h1M791 334.5h1M792.5 332v2M793 331.5h1M794.5 329v2M795.5 327v2M796.5 325v2M797.5 323v2M798.5 320v3M799.5 318v2M800.5 315v3M801.5 313v2M802.5 310v3M803.5 308v2M804.5 305v3M805.5 303v2M806.5 300v3M807.5 297v3M808.5 295v2M809.5 292v3M810.5 289v3M811.5 287v2M812.5 285v2M813.5 283v2M814.5 280v3M815.5 278v2M816.5 276v2M817.5 274v2M818 273.5h1M819.5 271v2M820.5 269v2M821.5 267v2M822 266.5h1M823.5 264v2M824 263.5h1M825.5 261v2M826 260.5h1M827.5 258v2M828 257.5h1M829.5 255v2M830 254.5h1M831.5 252v2M832 251.5h1M833.5 249v2M834 248.5h1M835.5 246v2M836.5 244v2M837.5 242v2M838 241.5h1M839.5 239v2M840 238.5h1M841.5 236v2M842 235.5h1M843 234.5h1M844 233.5h1M845 232.5h1M846 231.5h2M848 230.5h2M850 229.5h3M853 228.5h7M860 229.5h2M862 230.5h1M863 229.5h2M865 228.5h1M866 227.5h1M867 226.5h1M868.5 224v2M869 223.5h1M870 222.5h1M871 221.5h1M872.5 219v2M873 218.5h1M874 217.5h1M875 216.5h1M876.5 214v2M877 213.5h1M878 212.5h1M879 211.5h1M880.5 209v2M881 208.5h1M882 207.5h1M883.5 205v2M884.5 203v2M885.5 201v2M886 200.5h1M887.5 198v2M888.5 196v2M889.5 194v2M890 193.5h1M891.5 191v2M892.5 189v2M893.5 187v2M894 186.5h1M895.5 184v2M896 183.5h1M897.5 181v2M898 180.5h1M899.5 178v2M900 177.5h1M901.5 175v2M902 174.5h1M903.5 172v2M904 171.5h1M905.5 169v2M906 168.5h1M907.5 166v2M908 165.5h1M909.5 163v2M910 162.5h1M911 161.5h1M912.5 159v2M913 158.5h1M914 157.5h1M915 156.5h1M916.5 154v2M917 153.5h1M918 152.5h2M920 151.5h2M922 150.5h3M925 149.5h4M929 148.5h4M933 147.5h4M937 146.5h4M941 145.5h3M944 144.5h2M946 143.5h7M953 144.5h16M969 145.5h4M973 146.5h4M977 147.5h4M981 146.5h4M985 145.5h3M988 146.5h2M990 147.5h2M992 148.5h2M994 149.5h1M995 150.5h2M997 151.5h1M998 152.5h2M1000 153.5h2M1002 154.5h2M1004 155.5h2M1006 156.5h2M1008 157.5h2M1010 158.5h3M1013 159.5h3M1016 160.5h2M1018 161.5h7M1025 160.5h4M1029 159.5h12M1041 158.5h3M1044 157.5h2M1046 156.5h3M1049 155.5h3M1052 154.5h2M1054 153.5h3M1057 152.5h3M1060 151.5h2M1062 150.5h3M1065 149.5h4M1069 148.5h4M1073 147.5h4M1077 146.5h12M1089 145.5h8M1097 146.5h4M1101 147.5h3M1104 148.5h2"/>
<rect x="222" y="593" width="1" height="13" fill="#000"/>
<rect x="220.5" y="594.5" width="4" height="11" fill="#ffffff" stroke="#000" stroke-width="1"/>
<rect x="226" y="577" width="1" height="18" fill="#000"/>
<rect x="224.5" y="579.5" width="4" height="15" fill="#ffffff" stroke="#000" stroke-width="1"/>
<rect x="230" y="566" width="1" height="24" fill="#000"/>
<rect x="228.5" y="569.5" width="4" height="10" fill="#ffffff" stroke="#000" stroke-width="1"/>
<rect x="234" y="556" width="1" height="17" fill="#000"/>
<rect x="232.5" y="561.5" width="4" height="8" fill="#ffffff" stroke="#000" stroke-width="1"/>
<rect x="238" y="557" width="1" height="19" fill="#000"/>
<rect x="236.5" y="561.5" width="4" height="7" fill="#ff0000" stroke="#000" stroke-width="1"/>
<rect x="242" y="568" width="1" height="20" fill="#000"/>
<rect x="240.5" y="569.5" width="4" height="7" fill="#ff0000" stroke="#000" stroke-width="1"/>
<rect x="246" y="544" width="1" height="33" fill="#000"/>
<rect x="244.5" y="545.5" width="4" height="31" fill="#ffffff" stroke="#000" stroke-width="1"/>
<rect x="250" y="526" width="1" height="26" fill="#000"/>
<rect x="248.5" y="529.5" width="4" height="16" fill="#ffffff" stroke="#000" stroke-width="1"/>
<rect x="254" y="521" width="1" height="17" fill="#000"/>
<rect x="252.5" y="529.5" width="4" height="1" fill="#ffffff" stroke="#000" stroke-width="1"/>
<rect x="258" y="522" width="1" height="14" fill="#000"/>
<rect x="256.5" y="528.5" width="4" height="1" fill="#ffffff" stroke="#000" stroke-width="1"/>
<rect x="262" y="522" width="1" height="13" fill="#000"/>
<rect x="260.5" y="528.5" width="4" height="2" fill="#ff0000" stroke="#000" stroke-width="1"/>
<rect x="266" y="523" width="1" height="18" fill="#000"/>
<rect x="264.5" y="529.5" width="4" height="5" fill="#ff0000" stroke="#000" stroke-width="1"/>
<rect x="270" y="534" width="1" height="19" fill="#000"/>
<rect x="268.5" y="534.5" width="4" height="3" fill="#ff0000" stroke="#000" stroke-width="1"/>
<rect x="274" y="534" width="1" height="16" fill="#000"/>
<rect x="272.5" y="537.5" width="4" height="4" fill="#ff0000" stroke="#000" stroke-width="1"/>
<rect x="278" y="525" width="1" height="25" fill="#000"/>
<rect x="276.5" y="529.5" width="4" height="11" fill="#ffffff" stroke="#000" stroke-width="1"/>
<rect x="282" y="518" width="1" height="13" fill="#000"/>
<rect x="280.5" y="527.5" width="4" height="2" fill="#ffffff" stroke="#000" stroke-width="1"/>
<rect x="286" y="527" width="1" height="15" fill="#000"/>
<rect x="284.5" y="528.5" width="4" height="4" fill="#ff0000" stroke="#000" stroke-width="1"/>
<rect x="290" y="532" width="1" height="26" fill="#000"/>
<rect x="288.5" y="533.5" width="4" height="16" fill="#ff0000" stroke="#000" stroke-width="1"/>
<rect x="294" y="535" width="1" height="27" fill="#000"/>
<rect x="292.5" y="549.5" width="4" height="5" fill="#ff0000" stroke="#000" stroke-width="1"/>
<rect x="298" y="544" width="1" height="21" fill="#000"/>
<rect x="296.5" y="555.5" width="4" height="5" fill="#ff0000" stroke="#000" stroke-width="1"/>
<rect x="302" y="552" width="1" height="15" fill="#000"/>
<rect x="300.5" y="555.5" width="4" height="5" fill="#ffffff" stroke="#000" stroke-width="1"/>
<rect x="306" y="531" width="1" height="29" fill="#000"/>
<rect x="304.5" y="532.5" width="4" height="23" fill="#ffffff" stroke="#000" stroke-width="1"/>
<rect x="310" y="522" width="1" height="16" fill="#000"/>
<rect x="308.5" y="532.5" width="4" height="1" fill="#ffffff" stroke="#000" stroke-width="1"/>
<rect x="314" y="523" width="1" height="19" fill="#000"/>
<rect x="312.5" y="528.5" width="4" height="4" fill="#ffffff" stroke="#000" stroke-width="1"/>
<rect x="318" y="521" width="1" height="13" fill="#000"/>
<rect x="316.5" y="528.5" width="4" height="4" fill="#ff0000" stroke="#000" stroke-width="1"/>
<rect x="322" y="508" width="1" height="29" fill="#000"/>
<rect x="320.5" y="509.5" width="4" height="22" fill="#ffffff" stroke="#000" stroke-width="1"/>
<rect x="326" y="503" width="1" height="14" fill="#000"/>
<rect x="324.5" y="506.5" width="4" height="3" fill="#ffffff" stroke="#000" stroke-width="1"/>
<rect x="330" y="494" width="1" height="15" fill="#000"/>
<rect x="328.5" y="495.5" width="4" height="11" fill="#ffffff" stroke="#000" stroke-width="1"/>
<rect x="334" y="492" width="1" height="14" fill="#000"/>
<rect x="332.5" y="495.5" width="4" height="2" fill="#ff0000" stroke="#000" stroke-width="1"/>
<rect x="338" y="496" width="1" height="12" fill="#000"/>
<rect x="336.5" y="497.5" width="4" height="4" fill="#ff0000" stroke="#000" stroke-width="1"/>
<rect x="342" y="490" width="1" height="13" fill="#000"/>
<rect x="340.5" y="492.5" width="4" height="9" fill="#ffffff" stroke="#000" stroke-width="1"/>
<rect x="346" y="490" width="1" height="11" fill="#000"/>
<rect x="344.5" y="492.5" width="4" height="4" fill="#ff0000" stroke="#000" stroke-width="1"/>
<rect x="350" y="481" width="1" height="18" fill="#000"/>
<rect x="348.5" y="484.5" width="4" height="13" fill="#ffffff" stroke="#000" stroke-width="1"/>
<rect x="354" y="481" width="1" height="16" fill="#000"/>
<rect x="352.5" y="485.5" width="4" height="4" fill="#ff0000" stroke="#000" stroke-width="1"/>
<rect x="358" y="483" width="1" height="11" fill="#000"/>
<rect x="356.5" y="486.5" width="4" height="3" fill="#ffffff" stroke="#000" stroke-width="1"/>
<rect x="362" y="486" width="1" height="13" fill="#000"/>
<rect x="360.5" y="486.5" width="4" height="12" fill="#ff0000" stroke="#000" stroke-width="1"/>
<rect x="366" y="492" width="1" height="20" fill="#000"/>
<rect x="364.5" y="498.5" width="4" height="3" fill="#ff0000" stroke="#000" stroke-width="1"/>
<rect x="370" y="493" width="1" height="15" fill="#000"/>
<rect x="368.5" y="496.5" width="4" height="5" fill="#ffffff" stroke="#000" stroke-width="1"/>
<rect x="374" y="493" width="1" height="11" fill="#000"/>
<rect x="372" y="495" width="5" height="1" fill="#000"/>
<rect x="378" y="490" width="1" height="16" fill="#000"/>
<rect x="376" y="495" width="5" height="1" fill="#000"/>
<rect x="382" y="489" width="1" height="11" fill="#000"/>
<rect x="380.5" y="490.5" width="4" height="6" fill="#ffffff" stroke="#000" stroke-width="1"/>
<rect x="386" y="489" width="1" height="11" fill="#000"/>
<rect x="384.5" y="490.5" width="4" height="6" fill="#ff0000" stroke="#000" stroke-width="1"/>
<rect x="390" y="481" width="1" height="18" fill="#000"/>
<rect x="388.5" y="487.5" width="4" height="9" fill="#ffffff" stroke="#000" stroke-width="1"/>
<rect x="394" y="479" width="1" height="11" fill="#000"/>
<rect x="392.5" y="486.5" width="4" height="1" fill="#ffffff" stroke="#000" stroke-width="1"/>
<rect x="398" y="482" width="1" height="12" fill="#000"/>
<rect x="396.5" y="486.5" width="4" height="6" fill="#ff0000" stroke="#000" stroke-width="1"/>
<rect x="402" y="487" width="1" height="17" fill="#000"/>
<rect x="400.5" y="492.5" width="4" height="2" fill="#ff0000" stroke="#000" stroke-width="1"/>
<rect x="406" y="493" width="1" height="12" fill="#000"/>
<rect x="404.5" y="493.5" width="4" height="9" fill="#ff0000" stroke="#000" stroke-width="1"/>
<rect x="410" y="499" width="1" height="15" fill="#000"/>
<rect x="408.5" y="502.5" width="4" height="4" fill="#ff0000" stroke="#000" stroke-width="1"/>
<rect x="414" y="503" width="1" height="22" fill="#000"/>
<rect x="412.5" y="506.5" width="4" height="13" fill="#ff0000" stroke="#000" stroke-width="1"/>
<rect x="418" y="507" width="1" height="23" fill="#000"/>
<rect x="416.5" y="510.5" width="4" height="8" fill="#ffffff" stroke="#000" stroke-width="1"/>
<rect x="422" y="503" width="1" height="17" fill="#000"/>
<rect x="420.5" y="510.5" width="4" height="8" fill="#ff0000" stroke="#000" stroke-width="1"/>
<rect x="426" y="516" width="1" height="12" fill="#000"/>
<rect x="424.5" y="519.5" width="4" height="6" fill="#ff0000" stroke="#000" stroke-width="1"/>
<rect x="430" y="514" width="1" height="25" fill="#000"/>
<rect x="428.5" y="524.5" width="4" height="1" fill="#ffffff" stroke="#000" stroke-width="1"/>
<rect x="434" y="513" width="1" height="16" fill="#000"/>
<rect x="432.5" y="524.5" width="4" height="1" fill="#ffffff" stroke="#000" stroke-width="1"/>
<rect x="438" y="497" width="1" height="32" fill="#000"/>
<rect x="436.5" y="498.5" width="4" height="27" fill="#ffffff" stroke="#000" stroke-width="1"/>
<rect x="442" y="497" width="1" height="9" fill="#000"/>
<rect x="440.5" y="498.5" width="4" height="3" fill="#ff0000" stroke="#000" stroke-width="1"/>
<rect x="446" y="493" width="1" height="16" fill="#000"/>
<rect x="444.5" y="499.5" width="4" height="2" fill="#ffffff" stroke="#000" stroke-width="1"/>
<rect x="450" y="488" width="1" height="15" fill="#000"/>
<rect x="448.5" y="497.5" width="4" height="2" fill="#ffffff" stroke="#000" stroke-width="1"/>
<rect x="454" y="495" width="1" height="10" fill="#000"/>
<rect x="452.5" y="496.5" width="4" height="7" fill="#ff0000" stroke="#000" stroke-width="1"/>
<rect x="458" y="502" width="1" height="16" fill="#000"/>
<rect x="456.5" y="503.5" width="4" height="2" fill="#ff0000" stroke="#000" stroke-width="1"/>
<rect x="462" y="493" width="1" height="19" fill="#000"/>
<rect x="460.5" y="494.5" width="4" height="11" fill="#ffffff" stroke="#000" stroke-width="1"/>
<rect x="466" y="489" width="1" height="18" fill="#000"/>
<rect x="464.5" y="494.5" width="4" height="1" fill="#ffffff" stroke="#000" stroke-width="1"/>
<rect x="470" y="490" width="1" height="19" fill="#000"/>
<rect x="468.5" y="493.5" width="4" height="2" fill="#ffffff" stroke="#000" stroke-width="1"/>
<rect x="474" y="485" width="1" height="30" fill="#000"/>
<rect x="472.5" y="493.5" width="4" height="14" fill="#ff0000" stroke="#000" stroke-width="1"/>
<rect x="478" y="476" width="1" height="41" fill="#000"/>
<rect x="476.5" y="480.5" width="4" height="27" fill="#ffffff" stroke="#000" stroke-width="1"/>
<rect x="482" y="472" width="1" height="40" fill="#000"/>
<rect x="480.5" y="480.5" width="4" height="29" fill="#ff0000" stroke="#000" stroke-width="1"/>
<rect x="486" y="480" width="1" height="49" fill="#000"/>
<rect x="484.5" y="489.5" width="4" height="25" fill="#ffffff" stroke="#000" stroke-width="1"/>
<rect x="490" y="474" width="1" height="22" fill="#000"/>
<rect x="488.5" y="490.5" width="4" height="1" fill="#ffffff" stroke="#000" stroke-width="1"/>
<rect x="494" y="489" width="1" height="70" fill="#000"/>
<rect x="492.5" y="491.5" width="4" height="60" fill="#ff0000" stroke="#000" stroke-width="1"/>
<rect x="498" y="552" width="1" height="54" fill="#000"/>
<rect x="496.5" y="552.5" width="4" height="53" fill="#ff0000" stroke="#000" stroke-width="1"/>
<rect x="502" y="545" width="1" height="61" fill="#000"/>
<rect x="500.5" y="551.5" width="4" height="54" fill="#ffffff" stroke="#000" stroke-width="1"/>
<rect x="506" y="503" width="1" height="53" fill="#000"/>
<rect x="504.5" y="507.5" width="4" height="42" fill="#ffffff" stroke="#000" stroke-width="1"/>
<rect x="510" y="506" width="1" height="89" fill="#000"/>
<rect x="508.5" y="507.5" width="4" height="71" fill="#ff0000" stroke="#000" stroke-width="1"/>
<rect x="514" y="510" width="1" height="82" fill="#000"/>
<rect x="512.5" y="521.5" width="4" height="58" fill="#ffffff" stroke="#000" stroke-width="1"/>
<rect x="518" y="507" width="1" height="46" fill="#000"/>
<rect x="516.5" y="521.5" width="4" height="20" fill="#ff0000" stroke="#000" stroke-width="1"/>
<rect x="522" y="519" width="1" height="37" fill="#000"/>
<rect x="520.5" y="528.5" width="4" height="13" fill="#ffffff" stroke="#000" stroke-width="1"/>
<rect x="526" y="521" width="1" height="50" fill="#000"/>
<rect x="524.5" y="528.5" width="4" height="26" fill="#ff0000" stroke="#000" stroke-width="1"/>
<rect x="530" y="514" width="1" height="44" fill="#000"/>
<rect x="528.5" y="516.5" width="4" height="38" fill="#ffffff" stroke="#000" stroke-width="1"/>
<rect x="534" y="483" width="1" height="39" fill="#000"/>
<rect x="532.5" y="486.5" width="4" height="31" fill="#ffffff" stroke="#000" stroke-width="1"/>
<rect x="538" y="485" width="1" height="31" fill="#000"/>
<rect x="536.5" y="486.5" width="4" height="7" fill="#ff0000" stroke="#000" stroke-width="1"/>
<rect x="542" y="460" width="1" height="42" fill="#000"/>
<rect x="540.5" y="461.5" width="4" height="31" fill="#ffffff" stroke="#000" stroke-width="1"/>
<rect x="546" y="442" width="1" height="44" fill="#000"/>
<rect x="544.5" y="461.5" width="4" height="14" fill="#ff0000" stroke="#000" stroke-width="1"/>
<rect x="550" y="476" width="1" height="29" fill="#000"/>
<rect x="548.5" y="478.5" width="4" height="17" fill="#ff0000" stroke="#000" stroke-width="1"/>
<rect x="554" y="469" width="1" height="46" fill="#000"/>
<rect x="552.5" y="479.5" width="4" height="13" fill="#ffffff" stroke="#000" stroke-width="1"/>
<rect x="558" y="477" width="1" height="24" fill="#000"/>
<rect x="556.5" y="480.5" width="4" height="3" fill="#ff0000" stroke="#000" stroke-width="1"/>
<rect x="562" y="476" width="1" height="27" fill="#000"/>
<rect x="560.5" y="483.5" width="4" height="14" fill="#ff0000" stroke="#000" stroke-width="1"/>
<rect x="566" y="481" width="1" height="22" fill="#000"/>
<rect x="564.5" y="497.5" width="4" height="4" fill="#ff0000" stroke="#000" stroke-width="1"/>
<rect x="570" y="466" width="1" height="42" fill="#000"/>
<rect x="568.5" y="472.5" width="4" height="28" fill="#ffffff" stroke="#000" stroke-width="1"/>
<rect x="574" y="444" width="1" height="31" fill="#000"/>
<rect x="572.5" y="463.5" width="4" height="10" fill="#ffffff" stroke="#000" stroke-width="1"/>
<rect x="578" y="457" width="1" height="21" fill="#000"/>
<rect x="576.5" y="462.5" width="4" height="2" fill="#ffffff" stroke="#000" stroke-width="1"/>
<rect x="582" y="448" width="1" height="18" fill="#000"/>
<rect x="580.5" y="453.5" width="4" height="9" fill="#ffffff" stroke="#000" stroke-width="1"/>
<rect x="586" y="446" width="1" height="23" fill="#000"/>
<rect x="584.5" y="447.5" width="4" height="6" fill="#ffffff" stroke="#000" stroke-width="1"/>
<rect x="590" y="430" width="1" height="19" fill="#000"/>
<rect x="588.5" y="440.5" width="4" height="7" fill="#ffffff" stroke="#000" stroke-width="1"/>
<rect x="594" y="440" width="1" height="22" fill="#000"/>
<rect x="592.5" y="441.5" width="4" height="6" fill="#ff0000" stroke="#000" stroke-width="1"/>
<rect x="598" y="422" width="1" height="26" fill="#000"/>
<rect x="596.5" y="425.5" width="4" height="22" fill="#ffffff" stroke="#000" stroke-width="1"/>
<rect x="602" y="415" width="1" height="16" fill="#000"/>
<rect x="600.5" y="423.5" width="4" height="2" fill="#ffffff" stroke="#000" stroke-width="1"/>
<rect x="606" y="405" width="1" height="19" fill="#000"/>
<rect x="604.5" y="407.5" width="4" height="16" fill="#ffffff" stroke="#000" stroke-width="1"/>
<rect x="610" y="397" width="1" height="12" fill="#000"/>
<rect x="608.5" y="397.5" width="4" height="11" fill="#ffffff" stroke="#000" stroke-width="1"/>
<rect x="614" y="393" width="1" height="11" fill="#000"/>
<rect x="612.5" y="394.5" width="4" height="4" fill="#ffffff" stroke="#000" stroke-width="1"/>
<rect x="618" y="387" width="1" height="17" fill="#000"/>
<rect x="616.5" y="387.5" width="4" height="7" fill="#ffffff" stroke="#000" stroke-width="1"/>
<rect x="622" y="362" width="1" height="27" fill="#000"/>
<rect x="620.5" y="363.5" width="4" height="24" fill="#ffffff" stroke="#000" stroke-width="1"/>
<rect x="626" y="358" width="1" height="24" fill="#000"/>
<rect x="624.5" y="363.5" width="4" height="12" fill="#ff0000" stroke="#000" stroke-width="1"/>
<rect x="630" y="350" width="1" height="27" fill="#000"/>
<rect x="628.5" y="351.5" width="4" height="24" fill="#ffffff" stroke="#000" stroke-width="1"/>
<rect x="634" y="343" width="1" height="16" fill="#000"/>
<rect x="632.5" y="352.5" width="4" height="2" fill="#ff0000" stroke="#000" stroke-width="1"/>
<rect x="638" y="350" width="1" height="14" fill="#000"/>
<rect x="636.5" y="355.5" width="4" height="3" fill="#ff0000" stroke="#000" stroke-width="1"/>
<rect x="642" y="349" width="1" height="25" fill="#000"/>
<rect x="640.5" y="359.5" width="4" height="2" fill="#ff0000" stroke="#000" stroke-width="1"/>
<rect x="646" y="355" width="1" height="16" fill="#000"/>
<rect x="644.5" y="361.5" width="4" height="2" fill="#ff0000" stroke="#000" stroke-width="1"/>
<rect x="650" y="359" width="1" height="23" fill="#000"/>
<rect x="648.5" y="363.5" width="4" height="12" fill="#ff0000" stroke="#000" stroke-width="1"/>
<rect x="654" y="360" width="1" height="17" fill="#000"/>
<rect x="652.5" y="369.5" width="4" height="6" fill="#ffffff" stroke="#000" stroke-width="1"/>
<rect x="658" y="364" width="1" height="15" fill="#000"/>
<rect x="656.5" y="365.5" width="4" height="4" fill="#ffffff" stroke="#000" stroke-width="1"/>
<rect x="662" y="360" width="1" height="17" fill="#000"/>
<rect x="660.5" y="365.5" width="4" height="4" fill="#ff0000" stroke="#000" stroke-width="1"/>
<rect x="666" y="364" width="1" height="16" fill="#000"/>
<rect x="664.5" y="367.5" width="4" height="3" fill="#ffffff" stroke="#000" stroke-width="1"/>
<rect x="670" y="355" width="1" height="19" fill="#000"/>
<rect x="668.5" y="357.5" width="4" height="10" fill="#ffffff" stroke="#000" stroke-width="1"/>
<rect x="674" y="354" width="1" height="5" fill="#000"/>
<rect x="672.5" y="354.5" width="4" height="3" fill="#ffffff" stroke="#000" stroke-width="1"/>
<rect x="678" y="350" width="1" height="10" fill="#000"/>
<rect x="676.5" y="351.5" width="4" height="3" fill="#ffffff" stroke="#000" stroke-width="1"/>
<rect x="682" y="350" width="1" height="18" fill="#000"/>
<rect x="680.5" y="351.5" width="4" height="9" fill="#ff0000" stroke="#000" stroke-width="1"/>
<rect x="686" y="355" width="1" height="13" fill="#000"/>
<rect x="684.5" y="360.5" width="4" height="2" fill="#ff0000" stroke="#000" stroke-width="1"/>
<rect x="690" y="343" width="1" height="21" fill="#000"/>
<rect x="688.5" y="348.5" width="4" height="14" fill="#ffffff" stroke="#000" stroke-width="1"/>
<rect x="694" y="346" width="1" height="8" fill="#000"/>
<rect x="692.5" y="348.5" width="4" height="2" fill="#ff0000" stroke="#000" stroke-width="1"/>
<rect x="698" y="349" width="1" height="13" fill="#000"/>
<rect x="696.5" y="351.5" width="4" height="7" fill="#ff0000" stroke="#000" stroke-width="1"/>
<rect x="702" y="355" width="1" height="16" fill="#000"/>
<rect x="700.5" y="359.5" width="4" height="7" fill="#ff0000" stroke="#000" stroke-width="1"/>
<rect x="706" y="356" width="1" height="15" fill="#000"/>
<rect x="704.5" y="364.5" width="4" height="2" fill="#ffffff" stroke="#000" stroke-width="1"/>
<rect x="710" y="361" width="1" height="9" fill="#000"/>
<rect x="708.5" y="364.5" width="4" height="2" fill="#ff0000" stroke="#000" stroke-width="1"/>
<rect x="714" y="363" width="1" height="32" fill="#000"/>
<rect x="712.5" y="366.5" width="4" height="17" fill="#ff0000" stroke="#000" stroke-width="1"/>
<rect x="718" y="374" width="1" height="19" fill="#000"/>
<rect x="716.5" y="378.5" width="4" height="5" fill="#ffffff" stroke="#000" stroke-width="1"/>
<rect x="722" y="372" width="1" height="13" fill="#000"/>
<rect x="720.5" y="375.5" width="4" height="3" fill="#ffffff" stroke="#000" stroke-width="1"/>
<rect x="726" y="371" width="1" height="12" fill="#000"/>
<rect x="724.5" y="375.5" width="4" height="3" fill="#ff0000" stroke="#000" stroke-width="1"/>
<rect x="730" y="377" width="1" height="19" fill="#000"/>
<rect x="728.5" y="379.5" width="4" height="11" fill="#ff0000" stroke="#000" stroke-width="1"/>
<rect x="734" y="381" width="1" height="22" fill="#000"/>
<rect x="732.5" y="382.5" width="4" height="8" fill="#ffffff" stroke="#000" stroke-width="1"/>
<rect x="738" y="378" width="1" height="11" fill="#000"/>
<rect x="736.5" y="382.5" width="4" height="1" fill="#ffffff" stroke="#000" stroke-width="1"/>
<rect x="742" y="359" width="1" height="25" fill="#000"/>
<rect x="740.5" y="363.5" width="4" height="19" fill="#ffffff" stroke="#000" stroke-width="1"/>
<rect x="746" y="351" width="1" height="18" fill="#000"/>
<rect x="744.5" y="356.5" width="4" height="7" fill="#ffffff" stroke="#000" stroke-width="1"/>
<rect x="750" y="339" width="1" height="19" fill="#000"/>
<rect x="748.5" y="339.5" width="4" height="18" fill="#ffffff" stroke="#000" stroke-width="1"/>
<rect x="754" y="331" width="1" height="13" fill="#000"/>
<rect x="752.5" y="339.5" width="4" height="3" fill="#ff0000" stroke="#000" stroke-width="1"/>
<rect x="758" y="340" width="1" height="10" fill="#000"/>
<rect x="756.5" y="342.5" width="4" height="2" fill="#ff0000" stroke="#000" stroke-width="1"/>
<rect x="762" y="337" width="1" height="11" fill="#000"/>
<rect x="760.5" y="338.5" width="4" height="6" fill="#ffffff" stroke="#000" stroke-width="1"/>
<rect x="766" y="333" width="1" height="8" fill="#000"/>
<rect x="764.5" y="335.5" width="4" height="4" fill="#ffffff" stroke="#000" stroke-width="1"/>
<rect x="770" y="334" width="1" height="9" fill="#000"/>
<rect x="768.5" y="335.5" width="4" height="5" fill="#ff0000" stroke="#000" stroke-width="1"/>
<rect x="774" y="320" width="1" height="23" fill="#000"/>
<rect x="772.5" y="321.5" width="4" height="19" fill="#ffffff" stroke="#000" stroke-width="1"/>
<rect x="778" y="314" width="1" height="10" fill="#000"/>
<rect x="776.5" y="314.5" width="4" height="8" fill="#ffffff" stroke="#000" stroke-width="1"/>
<rect x="782" y="314" width="1" height="8" fill="#000"/>
<rect x="780.5" y="315.5" width="4" height="4" fill="#ff0000" stroke="#000" stroke-width="1"/>
<rect x="786" y="304" width="1" height="22" fill="#000"/>
<rect x="784.5" y="311.5" width="4" height="8" fill="#ffffff" stroke="#000" stroke-width="1"/>
<rect x="790" y="289" width="1" height="23" fill="#000"/>
<rect x="788.5" y="303.5" width="4" height="8" fill="#ffffff" stroke="#000" stroke-width="1"/>
<rect x="794" y="297" width="1" height="30" fill="#000"/>
<rect x="792.5" y="304.5" width="4" height="21" fill="#ff0000" stroke="#000" stroke-width="1"/>
<rect x="798" y="219" width="1" height="36" fill="#000"/>
<rect x="796.5" y="227.5" width="4" height="21" fill="#ffffff" stroke="#000" stroke-width="1"/>
<rect x="802" y="212" width="1" height="36" fill="#000"/>
<rect x="800.5" y="224.5" width="4" height="3" fill="#ffffff" stroke="#000" stroke-width="1"/>
<rect x="806" y="211" width="1" height="20" fill="#000"/>
<rect x="804.5" y="212.5" width="4" height="12" fill="#ffffff" stroke="#000" stroke-width="1"/>
<rect x="810" y="196" width="1" height="17" fill="#000"/>
<rect x="808.5" y="196.5" width="4" height="16" fill="#ffffff" stroke="#000" stroke-width="1"/>
<rect x="814" y="192" width="1" height="39" fill="#000"/>
<rect x="812.5" y="196.5" width="4" height="29" fill="#ff0000" stroke="#000" stroke-width="1"/>
<rect x="818" y="222" width="1" height="42" fill="#000"/>
<rect x="816.5" y="226.5" width="4" height="30" fill="#ff0000" stroke="#000" stroke-width="1"/>
<rect x="822" y="234" width="1" height="42" fill="#000"/>
<rect x="820.5" y="247.5" width="4" height="10" fill="#ffffff" stroke="#000" stroke-width="1"/>
<rect x="826" y="220" width="1" height="38" fill="#000"/>
<rect x="824.5" y="228.5" width="4" height="19" fill="#ffffff" stroke="#000" stroke-width="1"/>
<rect x="830" y="227" width="1" height="28" fill="#000"/>
<rect x="828.5" y="228.5" width="4" height="20" fill="#ff0000" stroke="#000" stroke-width="1"/>
<rect x="834" y="232" width="1" height="27" fill="#000"/>
<rect x="832.5" y="236.5" width="4" height="12" fill="#ffffff" stroke="#000" stroke-width="1"/>
<rect x="838" y="228" width="1" height="28" fill="#000"/>
<rect x="836.5" y="236.5" width="4" height="18" fill="#ff0000" stroke="#000" stroke-width="1"/>
<rect x="842" y="222" width="1" height="39" fill="#000"/>
<rect x="840.5" y="233.5" width="4" height="23" fill="#ffffff" stroke="#000" stroke-width="1"/>
<rect x="846" y="209" width="1" height="24" fill="#000"/>
<rect x="844.5" y="212.5" width="4" height="20" fill="#ffffff" stroke="#000" stroke-width="1"/>
<rect x="850" y="202" width="1" height="16" fill="#000"/>
<rect x="848.5" y="204.5" width="4" height="8" fill="#ffffff" stroke="#000" stroke-width="1"/>
<rect x="854" y="200" width="1" height="25" fill="#000"/>
<rect x="852.5" y="203.5" width="4" height="15" fill="#ff0000" stroke="#000" stroke-width="1"/>
<rect x="858" y="218" width="1" height="18" fill="#000"/>
<rect x="856.5" y="219.5" width="4" height="2" fill="#ff0000" stroke="#000" stroke-width="1"/>
<rect x="862" y="206" width="1" height="24" fill="#000"/>
<rect x="860.5" y="207.5" width="4" height="13" fill="#ffffff" stroke="#000" stroke-width="1"/>
<rect x="866" y="188" width="1" height="30" fill="#000"/>
<rect x="864.5" y="190.5" width="4" height="18" fill="#ffffff" stroke="#000" stroke-width="1"/>
<rect x="870" y="176" width="1" height="18" fill="#000"/>
<rect x="868.5" y="178.5" width="4" height="13" fill="#ffffff" stroke="#000" stroke-width="1"/>
<rect x="874" y="170" width="1" height="10" fill="#000"/>
<rect x="872.5" y="176.5" width="4" height="3" fill="#ffffff" stroke="#000" stroke-width="1"/>
<rect x="878" y="166" width="1" height="13" fill="#000"/>
<rect x="876.5" y="172.5" width="4" height="3" fill="#ffffff" stroke="#000" stroke-width="1"/>
<rect x="882" y="164" width="1" height="13" fill="#000"/>
<rect x="880.5" y="165.5" width="4" height="7" fill="#ffffff" stroke="#000" stroke-width="1"/>
<rect x="886" y="152" width="1" height="15" fill="#000"/>
<rect x="884.5" y="152.5" width="4" height="13" fill="#ffffff" stroke="#000" stroke-width="1"/>
<rect x="890" y="151" width="1" height="12" fill="#000"/>
<rect x="888.5" y="152.5" width="4" height="10" fill="#ff0000" stroke="#000" stroke-width="1"/>
<rect x="894" y="152" width="1" height="18" fill="#000"/>
<rect x="892.5" y="153.5" width="4" height="8" fill="#ffffff" stroke="#000" stroke-width="1"/>
<rect x="898" y="141" width="1" height="15" fill="#000"/>
<rect x="896.5" y="142.5" width="4" height="12" fill="#ffffff" stroke="#000" stroke-width="1"/>
<rect x="902" y="126" width="1" height="18" fill="#000"/>
<rect x="900.5" y="133.5" width="4" height="9" fill="#ffffff" stroke="#000" stroke-width="1"/>
<rect x="906" y="131" width="1" height="12" fill="#000"/>
<rect x="904.5" y="133.5" width="4" height="9" fill="#ff0000" stroke="#000" stroke-width="1"/>
<rect x="910" y="134" width="1" height="16" fill="#000"/>
<rect x="908.5" y="138.5" width="4" height="2" fill="#ffffff" stroke="#000" stroke-width="1"/>
<rect x="914" y="130" width="1" height="10" fill="#000"/>
<rect x="912.5" y="136.5" width="4" height="2" fill="#ffffff" stroke="#000" stroke-width="1"/>
<rect x="918" y="130" width="1" height="15" fill="#000"/>
<rect x="916.5" y="136.5" width="4" height="7" fill="#ff0000" stroke="#000" stroke-width="1"/>
<rect x="922" y="134" width="1" height="24" fill="#000"/>
<rect x="920.5" y="143.5" width="4" height="7" fill="#ff0000" stroke="#000" stroke-width="1"/>
<rect x="926" y="139" width="1" height="19" fill="#000"/>
<rect x="924.5" y="150.5" width="4" height="5" fill="#ff0000" stroke="#000" stroke-width="1"/>
<rect x="930" y="155" width="1" height="10" fill="#000"/>
<rect x="928.5" y="155.5" width="4" height="7" fill="#ff0000" stroke="#000" stroke-width="1"/>
<rect x="934" y="144" width="1" height="22" fill="#000"/>
<rect x="932.5" y="146.5" width="4" height="16" fill="#ffffff" stroke="#000" stroke-width="1"/>
<rect x="938" y="145" width="1" height="13" fill="#000"/>
<rect x="936.5" y="147.5" width="4" height="2" fill="#ff0000" stroke="#000" stroke-width="1"/>
<rect x="942" y="136" width="1" height="14" fill="#000"/>
<rect x="940.5" y="136.5" width="4" height="13" fill="#ffffff" stroke="#000" stroke-width="1"/>
<rect x="946" y="132" width="1" height="21" fill="#000"/>
<rect x="944.5" y="136.5" width="4" height="5" fill="#ff0000" stroke="#000" stroke-width="1"/>
<rect x="950" y="130" width="1" height="17" fill="#000"/>
<rect x="948.5" y="133.5" width="4" height="8" fill="#ffffff" stroke="#000" stroke-width="1"/>
<rect x="954" y="126" width="1" height="17" fill="#000"/>
<rect x="952.5" y="133.5" width="4" height="7" fill="#ff0000" stroke="#000" stroke-width="1"/>
<rect x="958" y="134" width="1" height="13" fill="#000"/>
<rect x="956.5" y="140.5" width="4" height="2" fill="#ff0000" stroke="#000" stroke-width="1"/>
<rect x="962" y="140" width="1" height="11" fill="#000"/>
<rect x="960.5" y="142.5" width="4" height="2" fill="#ff0000" stroke="#000" stroke-width="1"/>
<rect x="966" y="130" width="1" height="16" fill="#000"/>
<rect x="964.5" y="136.5" width="4" height="8" fill="#ffffff" stroke="#000" stroke-width="1"/>
<rect x="970" y="136" width="1" height="50" fill="#000"/>
<rect x="968.5" y="136.5" width="4" height="32" fill="#ff0000" stroke="#000" stroke-width="1"/>
<rect x="974" y="149" width="1" height="25" fill="#000"/>
<rect x="972.5" y="151.5" width="4" height="16" fill="#ffffff" stroke="#000" stroke-width="1"/>
<rect x="978" y="146" width="1" height="22" fill="#000"/>
<rect x="976.5" y="151.5" width="4" height="11" fill="#ff0000" stroke="#000" stroke-width="1"/>
<rect x="982" y="138" width="1" height="36" fill="#000"/>
<rect x="980.5" y="146.5" width="4" height="16" fill="#ffffff" stroke="#000" stroke-width="1"/>
<rect x="986" y="133" width="1" height="14" fill="#000"/>
<rect x="984.5" y="144.5" width="4" height="1" fill="#ffffff" stroke="#000" stroke-width="1"/>
<rect x="990" y="143" width="1" height="26" fill="#000"/>
<rect x="988.5" y="144.5" width="4" height="23" fill="#ff0000" stroke="#000" stroke-width="1"/>
<rect x="994" y="160" width="1" height="18" fill="#000"/>
<rect x="992.5" y="166.5" width="4" height="1" fill="#ffffff" stroke="#000" stroke-width="1"/>
<rect x="998" y="163" width="1" height="22" fill="#000"/>
<rect x="996.5" y="167.5" width="4" height="16" fill="#ff0000" stroke="#000" stroke-width="1"/>
<rect x="1002" y="159" width="1" height="32" fill="#000"/>
<rect x="1000.5" y="160.5" width="4" height="24" fill="#ffffff" stroke="#000" stroke-width="1"/>
<rect x="1006" y="155" width="1" height="21" fill="#000"/>
<rect x="1004.5" y="160.5" width="4" height="9" fill="#ff0000" stroke="#000" stroke-width="1"/>
<rect x="1010" y="162" width="1" height="21" fill="#000"/>
<rect x="1008.5" y="166.5" width="4" height="3" fill="#ffffff" stroke="#000" stroke-width="1"/>
<rect x="1014" y="146" width="1" height="24" fill="#000"/>
<rect x="1012" y="165" width="5" height="1" fill="#000"/>
<rect x="1018" y="159" width="1" height="13" fill="#000"/>
<rect x="1016.5" y="164.5" width="4" height="1" fill="#ffffff" stroke="#000" stroke-width="1"/>
<rect x="1022" y="150" width="1" height="25" fill="#000"/>
<rect x="1020.5" y="155.5" width="4" height="9" fill="#ffffff" stroke="#000" stroke-width="1"/>
<rect x="1026" y="143" width="1" height="15" fill="#000"/>
<rect x="1024.5" y="148.5" width="4" height="8" fill="#ffffff" stroke="#000" stroke-width="1"/>
<rect x="1030" y="140" width="1" height="13" fill="#000"/>
<rect x="1028.5" y="141.5" width="4" height="7" fill="#ffffff" stroke="#000" stroke-width="1"/>
<rect x="1034" y="138" width="1" height="8" fill="#000"/>
<rect x="1032.5" y="140.5" width="4" height="1" fill="#ffffff" stroke="#000" stroke-width="1"/>
<rect x="1038" y="134" width="1" height="11" fill="#000"/>
<rect x="1036.5" y="140.5" width="4" height="3" fill="#ff0000" stroke="#000" stroke-width="1"/>
<rect x="1042" y="142" width="1" height="17" fill="#000"/>
<rect x="1040.5" y="144.5" width="4" height="10" fill="#ff0000" stroke="#000" stroke-width="1"/>
<rect x="1046" y="139" width="1" height="23" fill="#000"/>
<rect x="1044.5" y="155.5" width="4" height="1" fill="#ffffff" stroke="#000" stroke-width="1"/>
<rect x="1050" y="144" width="1" height="17" fill="#000"/>
<rect x="1048.5" y="156.5" width="4" height="3" fill="#ff0000" stroke="#000" stroke-width="1"/>
<rect x="1054" y="146" width="1" height="17" fill="#000"/>
<rect x="1052.5" y="151.5" width="4" height="8" fill="#ffffff" stroke="#000" stroke-width="1"/>
<rect x="1058" y="147" width="1" height="11" fill="#000"/>
<rect x="1056" y="152" width="5" height="1" fill="#000"/>
<rect x="1062" y="142" width="1" height="16" fill="#000"/>
<rect x="1060.5" y="145.5" width="4" height="7" fill="#ffffff" stroke="#000" stroke-width="1"/>
<rect x="1066" y="144" width="1" height="17" fill="#000"/>
<rect x="1064.5" y="145.5" width="4" height="3" fill="#ff0000" stroke="#000" stroke-width="1"/>
<rect x="1070" y="135" width="1" height="15" fill="#000"/>
<rect x="1068.5" y="136.5" width="4" height="13" fill="#ffffff" stroke="#000" stroke-width="1"/>
<rect x="1074" y="129" width="1" height="15" fill="#000"/>
<rect x="1072.5" y="136.5" width="4" height="6" fill="#ff0000" stroke="#000" stroke-width="1"/>
<rect x="1078" y="133" width="1" height="10" fill="#000"/>
<rect x="1076.5" y="139.5" width="4" height="2" fill="#ffffff" stroke="#000" stroke-width="1"/>
<rect x="1082" y="135" width="1" height="9" fill="#000"/>
<rect x="1080.5" y="139.5" width="4" height="2" fill="#ff0000" stroke="#000" stroke-width="1"/>
<rect x="1086" y="136" width="1" height="16" fill="#000"/>
<rect x="1084.5" y="141.5" width="4" height="1" fill="#ffffff" stroke="#000" stroke-width="1"/>
<rect x="1090" y="140" width="1" height="8" fill="#000"/>
<rect x="1088" y="143" width="5" height="1" fill="#000"/>
<rect x="1094" y="135" width="1" height="14" fill="#000"/>
<rect x="1092" y="143" width="5" height="1" fill="#000"/>
<rect x="1098" y="136" width="1" height="23" fill="#000"/>
<rect x="1096.5" y="143.5" width="4" height="14" fill="#ff0000" stroke="#000" stroke-width="1"/>
<rect x="1102" y="146" width="1" height="27" fill="#000"/>
<rect x="1100.5" y="157.5" width="4" height="12" fill="#ff0000" stroke="#000" stroke-width="1"/>
<rect x="1106" y="163" width="1" height="27" fill="#000"/>
<rect x="1104.5" y="169.5" width="4" height="18" fill="#ff0000" stroke="#000" stroke-width="1"/>
</g>
<rect x="791" y="288" width="402" height="2" fill="#ff0000"/>
<rect x="795" y="296" width="398" height="2" fill="#008000"/>
<rect x="797" y="324" width="396" height="2" fill="#0000ff"/>
<rect x="790" y="289" width="1" height="15" fill="#000"/>
<rect x="794" y="297" width="1" height="7" fill="#000"/>
<clipPath id="cp2"><rect x="0" y="601" width="1193" height="89"/></clipPath>
<g clip-path="url(#cp2)">
<rect x="0" y="655" width="1193" height="1" fill="#000"/>
<rect x="2" y="643" width="1" height="13" fill="#ff00ff"/>
<rect x="6" y="646" width="1" height="10" fill="#ff00ff"/>
<rect x="10" y="648" width="1" height="8" fill="#ff00ff"/>
<rect x="14" y="649" width="1" height="7" fill="#ff00ff"/>
<rect x="18" y="651" width="1" height="5" fill="#ff00ff"/>
<rect x="22" y="653" width="1" height="3" fill="#ff00ff"/>
<rect x="26" y="655" width="1" height="2" fill="#ff00ff"/>
<rect x="30" y="655" width="1" height="7" fill="#ff00ff"/>
<rect x="34" y="655" width="1" height="11" fill="#ff00ff"/>
<rect x="38" y="655" width="1" height="15" fill="#ff00ff"/>
<rect x="42" y="655" width="1" height="16" fill="#ff00ff"/>
<rect x="46" y="655" width="1" height="16" fill="#ff00ff"/>
<rect x="50" y="655" width="1" height="15" fill="#ff00ff"/>
<rect x="54" y="655" width="1" height="11" fill="#ff00ff"/>
<rect x="58" y="655" width="1" height="7" fill="#ff00ff"/>
<rect x="62" y="655" width="1" height="4" fill="#ff00ff"/>
<rect x="66" y="653" width="1" height="3" fill="#ff00ff"/>
<rect x="70" y="650" width="1" height="6" fill="#ff00ff"/>
<rect x="74" y="648" width="1" height="8" fill="#ff00ff"/>
<rect x="78" y="646" width="1" height="10" fill="#ff00ff"/>
<rect x="82" y="646" width="1" height="10" fill="#ff00ff"/>
<rect x="86" y="646" width="1" height="10" fill="#ff00ff"/>
<rect x="90" y="647" width="1" height="9" fill="#ff00ff"/>
<rect x="94" y="647" width="1" height="9" fill="#ff00ff"/>
<rect x="98" y="648" width="1" height="8" fill="#ff00ff"/>
<rect x="102" y="650" width="1" height="6" fill="#ff00ff"/>
<rect x="106" y="652" width="1" height="4" fill="#ff00ff"/>
<rect x="110" y="655" width="1" height="2" fill="#ff00ff"/>
<rect x="114" y="655" width="1" height="5" fill="#ff00ff"/>
<rect x="118" y="655" width="1" height="8" fill="#ff00ff"/>
<rect x="122" y="655" width="1" height="9" fill="#ff00ff"/>
<rect x="126" y="655" width="1" height="10" fill="#ff00ff"/>
<rect x="130" y="655" width="1" height="10" fill="#ff00ff"/>
<rect x="134" y="655" width="1" height="10" fill="#ff00ff"/>
<rect x="138" y="655" width="1" height="11" fill="#ff00ff"/>
<rect x="142" y="655" width="1" height="12" fill="#ff00ff"/>
<rect x="146" y="655" width="1" height="13" fill="#ff00ff"/>
<rect x="150" y="655" width="1" height="14" fill="#ff00ff"/>
<rect x="154" y="655" width="1" height="14" fill="#ff00ff"/>
<rect x="158" y="655" width="1" height="13" fill="#ff00ff"/>
<rect x="162" y="655" width="1" height="13" fill="#ff00ff"/>
<rect x="166" y="655" width="1" height="13" fill="#ff00ff"/>
<rect x="170" y="655" width="1" height="13" fill="#ff00ff"/>
<rect x="174" y="655" width="1" height="4" fill="#ff00ff"/>
<rect x="178" y="651" width="1" height="5" fill="#ff00ff"/>
<rect x="182" y="650" width="1" height="6" fill="#ff00ff"/>
<rect x="186" y="650" width="1" height="6" fill="#ff00ff"/>
<rect x="190" y="650" width="1" height="6" fill="#ff00ff"/>
<rect x="194" y="650" width="1" height="6" fill="#ff00ff"/>
<rect x="198" y="648" width="1" height="8" fill="#ff00ff"/>
<rect x="202" y="645" width="1" height="11" fill="#ff00ff"/>
<rect x="206" y="644" width="1" height="12" fill="#ff00ff"/>
<rect x="210" y="645" width="1" height="11" fill="#ff00ff"/>
<rect x="214" y="646" width="1" height="10" fill="#ff00ff"/>
<rect x="218" y="647" width="1" height="9" fill="#ff00ff"/>
<rect x="222" y="647" width="1" height="9" fill="#ff00ff"/>
<rect x="226" y="647" width="1" height="9" fill="#ff00ff"/>
<rect x="230" y="647" width="1" height="9" fill="#ff00ff"/>
<rect x="234" y="647" width="1" height="9" fill="#ff00ff"/>
<rect x="238" y="649" width="1" height="7" fill="#ff00ff"/>
<rect x="242" y="650" width="1" height="6" fill="#ff00ff"/>
<rect x="246" y="650" width="1" height="6" fill="#ff00ff"/>
<rect x="250" y="650" width="1" height="6" fill="#ff00ff"/>
<rect x="254" y="650" width="1" height="6" fill="#ff00ff"/>
<rect x="258" y="651" width="1" height="5" fill="#ff00ff"/>
<rect x="262" y="652" width="1" height="4" fill="#ff00ff"/>
<rect x="266" y="653" width="1" height="3" fill="#ff00ff"/>
<rect x="270" y="654" width="1" height="2" fill="#ff00ff"/>
<rect x="274" y="655" width="1" height="2" fill="#ff00ff"/>
<rect x="278" y="655" width="1" height="3" fill="#ff00ff"/>
<rect x="282" y="655" width="1" height="3" fill="#ff00ff"/>
<rect x="286" y="655" width="1" height="4" fill="#ff00ff"/>
<rect x="290" y="655" width="1" height="6" fill="#ff00ff"/>
<rect x="294" y="655" width="1" height="8" fill="#ff00ff"/>
<rect x="298" y="655" width="1" height="9" fill="#ff00ff"/>
<rect x="302" y="655" width="1" height="9" fill="#ff00ff"/>
<rect x="306" y="655" width="1" height="8" fill="#ff00ff"/>
<rect x="310" y="655" width="1" height="7" fill="#ff00ff"/>
<rect x="314" y="655" width="1" height="6" fill="#ff00ff"/>
<rect x="318" y="655" width="1" height="6" fill="#ff00ff"/>
<rect x="322" y="655" width="1" height="4" fill="#ff00ff"/>
<rect x="326" y="655" width="1" height="2" fill="#ff00ff"/>
<rect x="330" y="655" width="1" height="2" fill="#ff00ff"/>
<rect x="334" y="655" width="1" height="1" fill="#ff00ff"/>
<rect x="338" y="655" width="1" height="1" fill="#ff00ff"/>
<rect x="342" y="655" width="1" height="1" fill="#ff00ff"/>
<rect x="346" y="655" width="1" height="1" fill="#ff00ff"/>
<rect x="350" y="655" width="1" height="1" fill="#ff00ff"/>
<rect x="354" y="655" width="1" height="1" fill="#ff00ff"/>
<rect x="358" y="655" width="1" height="1" fill="#ff00ff"/>
<rect x="362" y="655" width="1" height="2" fill="#ff00ff"/>
<rect x="366" y="655" width="1" height="3" fill="#ff00ff"/>
<rect x="370" y="655" width="1" height="4" fill="#ff00ff"/>
<rect x="374" y="655" width="1" height="4" fill="#ff00ff"/>
<rect x="378" y="655" width="1" height="4" fill="#ff00ff"/>
<rect x="382" y="655" width="1" height="4" fill="#ff00ff"/>
<rect x="386" y="655" width="1" height="4" fill="#ff00ff"/>
<rect x="390" y="655" width="1" height="4" fill="#ff00ff"/>
<rect x="394" y="655" width="1" height="4" fill="#ff00ff"/>
<rect x="398" y="655" width="1" height="3" fill="#ff00ff"/>
<rect x="402" y="655" width="1" height="4" fill="#ff00ff"/>
<rect x="406" y="655" width="1" height="5" fill="#ff00ff"/>
<rect x="410" y="655" width="1" height="5" fill="#ff00ff"/>
<rect x="414" y="655" width="1" height="6" fill="#ff00ff"/>
<rect x="418" y="655" width="1" height="6" fill="#ff00ff"/>
<rect x="422" y="655" width="1" height="6" fill="#ff00ff"/>
<rect x="426" y="655" width="1" height="6" fill="#ff00ff"/>
<rect x="430" y="655" width="1" height="7" fill="#ff00ff"/>
<rect x="434" y="655" width="1" height="6" fill="#ff00ff"/>
<rect x="438" y="655" width="1" height="5" fill="#ff00ff"/>
<rect x="442" y="655" width="1" height="3" fill="#ff00ff"/>
<rect x="446" y="655" width="1" height="2" fill="#ff00ff"/>
<rect x="450" y="655" width="1" height="2" fill="#ff00ff"/>
<rect x="454" y="655" width="1" height="2" fill="#ff00ff"/>
<rect x="458" y="655" width="1" height="1" fill="#ff00ff"/>
<rect x="462" y="655" width="1" height="1" fill="#ff00ff"/>
<rect x="466" y="655" width="1" height="1" fill="#ff00ff"/>
<rect x="470" y="655" width="1" height="1" fill="#ff00ff"/>
<rect x="474" y="655" width="1" height="1" fill="#ff00ff"/>
<rect x="478" y="654" width="1" height="2" fill="#ff00ff"/>
<rect x="482" y="654" width="1" height="2" fill="#ff00ff"/>
<rect x="486" y="654" width="1" height="2" fill="#ff00ff"/>
<rect x="490" y="654" width="1" height="2" fill="#ff00ff"/>
<rect x="494" y="655" width="1" height="3" fill="#ff00ff"/>
<rect x="498" y="655" width="1" height="10" fill="#ff00ff"/>
<rect x="502" y="655" width="1" height="9" fill="#ff00ff"/>
<rect x="506" y="655" width="1" height="7" fill="#ff00ff"/>
<rect x="510" y="655" width="1" height="7" fill="#ff00ff"/>
<rect x="514" y="655" width="1" height="5" fill="#ff00ff"/>
<rect x="518" y="655" width="1" height="4" fill="#ff00ff"/>
<rect x="522" y="655" width="1" height="3" fill="#ff00ff"/>
<rect x="526" y="655" width="1" height="2" fill="#ff00ff"/>
<rect x="530" y="655" width="1" height="1" fill="#ff00ff"/>
<rect x="534" y="652" width="1" height="4" fill="#ff00ff"/>
<rect x="538" y="651" width="1" height="5" fill="#ff00ff"/>
<rect x="542" y="649" width="1" height="7" fill="#ff00ff"/>
<rect x="546" y="649" width="1" height="7" fill="#ff00ff"/>
<rect x="550" y="649" width="1" height="7" fill="#ff00ff"/>
<rect x="554" y="649" width="1" height="7" fill="#ff00ff"/>
<rect x="558" y="650" width="1" height="6" fill="#ff00ff"/>
<rect x="562" y="652" width="1" height="4" fill="#ff00ff"/>
<rect x="566" y="653" width="1" height="3" fill="#ff00ff"/>
<rect x="570" y="653" width="1" height="3" fill="#ff00ff"/>
<rect x="574" y="653" width="1" height="3" fill="#ff00ff"/>
<rect x="578" y="652" width="1" height="4" fill="#ff00ff"/>
<rect x="582" y="652" width="1" height="4" fill="#ff00ff"/>
<rect x="586" y="651" width="1" height="5" fill="#ff00ff"/>
<rect x="590" y="651" width="1" height="5" fill="#ff00ff"/>
<rect x="594" y="651" width="1" height="5" fill="#ff00ff"/>
<rect x="598" y="651" width="1" height="5" fill="#ff00ff"/>
<rect x="602" y="650" width="1" height="6" fill="#ff00ff"/>
<rect x="606" y="649" width="1" height="7" fill="#ff00ff"/>
<rect x="610" y="649" width="1" height="7" fill="#ff00ff"/>
<rect x="614" y="649" width="1" height="7" fill="#ff00ff"/>
<rect x="618" y="648" width="1" height="8" fill="#ff00ff"/>
<rect x="622" y="648" width="1" height="8" fill="#ff00ff"/>
<rect x="626" y="649" width="1" height="7" fill="#ff00ff"/>
<rect x="630" y="649" width="1" height="7" fill="#ff00ff"/>
<rect x="634" y="649" width="1" height="7" fill="#ff00ff"/>
<rect x="638" y="650" width="1" height="6" fill="#ff00ff"/>
<rect x="642" y="651" width="1" height="5" fill="#ff00ff"/>
<rect x="646" y="653" width="1" height="3" fill="#ff00ff"/>
<rect x="650" y="654" width="1" height="2" fill="#ff00ff"/>
<rect x="654" y="655" width="1" height="2" fill="#ff00ff"/>
<rect x="658" y="655" width="1" height="3" fill="#ff00ff"/>
<rect x="662" y="655" width="1" height="3" fill="#ff00ff"/>
<rect x="666" y="655" width="1" height="4" fill="#ff00ff"/>
<rect x="670" y="655" width="1" height="4" fill="#ff00ff"/>
<rect x="674" y="655" width="1" height="4" fill="#ff00ff"/>
<rect x="678" y="655" width="1" height="4" fill="#ff00ff"/>
<rect x="682" y="655" width="1" height="4" fill="#ff00ff"/>
<rect x="686" y="655" width="1" height="4" fill="#ff00ff"/>
<rect x="690" y="655" width="1" height="4" fill="#ff00ff"/>
<rect x="694" y="655" width="1" height="4" fill="#ff00ff"/>
<rect x="698" y="655" width="1" height="4" fill="#ff00ff"/>
<rect x="702" y="655" width="1" height="5" fill="#ff00ff"/>
<rect x="706" y="655" width="1" height="6" fill="#ff00ff"/>
<rect x="710" y="655" width="1" height="6" fill="#ff00ff"/>
<rect x="714" y="655" width="1" height="7" fill="#ff00ff"/>
<rect x="718" y="655" width="1" height="7" fill="#ff00ff"/>
<rect x="722" y="655" width="1" height="7" fill="#ff00ff"/>
<rect x="726" y="655" width="1" height="7" fill="#ff00ff"/>
<rect x="730" y="655" width="1" height="7" fill="#ff00ff"/>
<rect x="734" y="655" width="1" height="7" fill="#ff00ff"/>
<rect x="738" y="655" width="1" height="7" fill="#ff00ff"/>
<rect x="742" y="655" width="1" height="5" fill="#ff00ff"/>
<rect x="746" y="655" width="1" height="3" fill="#ff00ff"/>
<rect x="750" y="654" width="1" height="2" fill="#ff00ff"/>
<rect x="754" y="654" width="1" height="2" fill="#ff00ff"/>
<rect x="758" y="653" width="1" height="3" fill="#ff00ff"/>
<rect x="762" y="653" width="1" height="3" fill="#ff00ff"/>
<rect x="766" y="653" width="1" height="3" fill="#ff00ff"/>
<rect x="770" y="653" width="1" height="3" fill="#ff00ff"/>
<rect x="774" y="653" width="1" height="3" fill="#ff00ff"/>
<rect x="778" y="652" width="1" height="4" fill="#ff00ff"/>
<rect x="782" y="652" width="1" height="4" fill="#ff00ff"/>
<rect x="786" y="652" width="1" height="4" fill="#ff00ff"/>
<rect x="790" y="653" width="1" height="3" fill="#ff00ff"/>
<rect x="794" y="653" width="1" height="3" fill="#ff00ff"/>
<rect x="798" y="650" width="1" height="6" fill="#ff00ff"/>
<rect x="802" y="646" width="1" height="10" fill="#ff00ff"/>
<rect x="806" y="644" width="1" height="12" fill="#ff00ff"/>
<rect x="810" y="643" width="1" height="13" fill="#ff00ff"/>
<rect x="814" y="644" width="1" height="12" fill="#ff00ff"/>
<rect x="818" y="647" width="1" height="9" fill="#ff00ff"/>
<rect x="822" y="650" width="1" height="6" fill="#ff00ff"/>
<rect x="826" y="651" width="1" height="5" fill="#ff00ff"/>
<rect x="830" y="653" width="1" height="3" fill="#ff00ff"/>
<rect x="834" y="655" width="1" height="1" fill="#ff00ff"/>
<rect x="838" y="655" width="1" height="2" fill="#ff00ff"/>
<rect x="842" y="655" width="1" height="3" fill="#ff00ff"/>
<rect x="846" y="655" width="1" height="2" fill="#ff00ff"/>
<rect x="850" y="655" width="1" height="1" fill="#ff00ff"/>
<rect x="854" y="655" width="1" height="1" fill="#ff00ff"/>
<rect x="858" y="655" width="1" height="2" fill="#ff00ff"/>
<rect x="862" y="655" width="1" height="2" fill="#ff00ff"/>
<rect x="866" y="655" width="1" height="1" fill="#ff00ff"/>
<rect x="870" y="655" width="1" height="1" fill="#ff00ff"/>
<rect x="874" y="654" width="1" height="2" fill="#ff00ff"/>
<rect x="878" y="653" width="1" height="3" fill="#ff00ff"/>
<rect x="882" y="653" width="1" height="3" fill="#ff00ff"/>
<rect x="886" y="653" width="1" height="3" fill="#ff00ff"/>
<rect x="890" y="653" width="1" height="3" fill="#ff00ff"/>
<rect x="894" y="654" width="1" height="2" fill="#ff00ff"/>
<rect x="898" y="654" width="1" height="2" fill="#ff00ff"/>
<rect x="902" y="654" width="1" height="2" fill="#ff00ff"/>
<rect x="906" y="654" width="1" height="2" fill="#ff00ff"/>
<rect x="910" y="654" width="1" height="2" fill="#ff00ff"/>
<rect x="914" y="655" width="1" height="1" fill="#ff00ff"/>
<rect x="918" y="655" width="1" height="3" fill="#ff00ff"/>
<rect x="922" y="655" width="1" height="4" fill="#ff00ff"/>
<rect x="926" y="655" width="1" height="5" fill="#ff00ff"/>
<rect x="930" y="655" width="1" height="6" fill="#ff00ff"/>
<rect x="934" y="655" width="1" height="5" fill="#ff00ff"/>
<rect x="938" y="655" width="1" height="4" fill="#ff00ff"/>
<rect x="942" y="655" width="1" height="4" fill="#ff00ff"/>
<rect x="946" y="655" width="1" height="4" fill="#ff00ff"/>
<rect x="950" y="655" width="1" height="5" fill="#ff00ff"/>
<rect x="954" y="655" width="1" height="5" fill="#ff00ff"/>
<rect x="958" y="655" width="1" height="5" fill="#ff00ff"/>
<rect x="962" y="655" width="1" height="5" fill="#ff00ff"/>
<rect x="966" y="655" width="1" height="5" fill="#ff00ff"/>
<rect x="970" y="655" width="1" height="6" fill="#ff00ff"/>
<rect x="974" y="655" width="1" height="7" fill="#ff00ff"/>
<rect x="978" y="655" width="1" height="7" fill="#ff00ff"/>
<rect x="982" y="655" width="1" height="7" fill="#ff00ff"/>
<rect x="986" y="655" width="1" height="6" fill="#ff00ff"/>
<rect x="990" y="655" width="1" height="6" fill="#ff00ff"/>
<rect x="994" y="655" width="1" height="7" fill="#ff00ff"/>
<rect x="998" y="655" width="1" height="7" fill="#ff00ff"/>
<rect x="1002" y="655" width="1" height="6" fill="#ff00ff"/>
<rect x="1006" y="655" width="1" height="6" fill="#ff00ff"/>
<rect x="1010" y="655" width="1" height="5" fill="#ff00ff"/>
<rect x="1014" y="655" width="1" height="4" fill="#ff00ff"/>
<rect x="1018" y="655" width="1" height="3" fill="#ff00ff"/>
<rect x="1022" y="655" width="1" height="3" fill="#ff00ff"/>
<rect x="1026" y="655" width="1" height="2" fill="#ff00ff"/>
<rect x="1030" y="655" width="1" height="1" fill="#ff00ff"/>
<rect x="1034" y="655" width="1" height="1" fill="#ff00ff"/>
<rect x="1038" y="654" width="1" height="2" fill="#ff00ff"/>
<rect x="1042" y="655" width="1" height="1" fill="#ff00ff"/>
<rect x="1046" y="655" width="1" height="1" fill="#ff00ff"/>
<rect x="1050" y="655" width="1" height="2" fill="#ff00ff"/>
<rect x="1054" y="655" width="1" height="2" fill="#ff00ff"/>
<rect x="1058" y="655" width="1" height="2" fill="#ff00ff"/>
<rect x="1062" y="655" width="1" height="2" fill="#ff00ff"/>
<rect x="1066" y="655" width="1" height="1" fill="#ff00ff"/>
<rect x="1070" y="655" width="1" height="1" fill="#ff00ff"/>
<rect x="1074" y="655" width="1" height="1" fill="#ff00ff"/>
<rect x="1078" y="655" width="1" height="1" fill="#ff00ff"/>
<rect x="1082" y="655" width="1" height="1" fill="#ff00ff"/>
<rect x="1086" y="655" width="1" height="1" fill="#ff00ff"/>
<rect x="1090" y="655" width="1" height="1" fill="#ff00ff"/>
<rect x="1094" y="655" width="1" height="1" fill="#ff00ff"/>
<rect x="1098" y="655" width="1" height="2" fill="#ff00ff"/>
<rect x="1102" y="655" width="1" height="2" fill="#ff00ff"/>
<path fill="none" stroke="#0000ff" stroke-width="1" d="M0 609.5h17M17 610.5h3M20 611.5h2M22 612.5h1M23 613.5h2M25 614.5h1M26 615.5h1M27.5 616v2M28.5 618v2M29.5 620v2M30 622.5h1M31.5 623v2M32.5 625v2M33.5 627v2M34 629.5h1M35.5 630v2M36 632.5h1M37.5 633v2M38 635.5h1M39 636.5h1M40.5 637v2M41 639.5h1M42 640.5h1M43 641.5h2M45 642.5h1M46 643.5h2M48 644.5h2M50 645.5h2M52 644.5h2M54 643.5h2M56 642.5h2M58 641.5h2M60 640.5h2M62 639.5h1M63.5 637v2M64.5 635v2M65.5 633v2M66 632.5h1M67 631.5h1M68 630.5h1M69 629.5h1M70 628.5h1M71 627.5h2M73 626.5h1M74 625.5h1M75 624.5h1M76 623.5h1M77 622.5h1M78 621.5h2M80 620.5h2M82 619.5h2M84 618.5h2M86 617.5h3M89 616.5h4M93 615.5h4M97 614.5h3M100 615.5h2M102 616.5h3M105 617.5h2M107 618.5h2M109 619.5h1M110 620.5h1M111 621.5h1M112.5 622v2M113 624.5h1M114 625.5h1M115 626.5h1M116 627.5h1M117 628.5h1M118 629.5h1M119 630.5h1M120 631.5h1M121 632.5h1M122 633.5h1M123 634.5h2M125 635.5h1M126 636.5h2M128 637.5h2M130 638.5h1M131 639.5h2M133 640.5h1M134 641.5h1M135 642.5h2M137 643.5h1M138 644.5h1M139 645.5h1M140 646.5h1M141 647.5h1M142 648.5h1M143 649.5h1M144 650.5h1M145 651.5h1M146 652.5h1M147 653.5h2M149 654.5h1M150 655.5h1M151 656.5h2M153 657.5h1M154 658.5h2M156 659.5h2M158 660.5h2M160 661.5h2M162 662.5h1M163 663.5h2M165 664.5h1M166 665.5h2M168 666.5h2M170.5 666v2M171.5 664v2M172.5 662v2M173.5 660v2M174.5 657v3M175.5 655v2M176.5 653v2M177.5 651v2M178 650.5h2M180 649.5h2M182 648.5h3M185 647.5h3M188 646.5h2M190 645.5h2M192 644.5h2M194 643.5h1M195 642.5h1M196.5 640v2M197 639.5h1M198 638.5h1M199 637.5h1M200 636.5h1M201 635.5h1M202 634.5h1M203 633.5h1M204 632.5h1M205 631.5h1M206 630.5h3M209 629.5h3M212 628.5h2M214 627.5h3M217 626.5h3M220 625.5h2M222 624.5h2M224 623.5h2M226 622.5h2M228 621.5h2M230 620.5h3M233 619.5h11M244 618.5h2M246 617.5h3M249 616.5h4M253 615.5h12M265 616.5h4M269 617.5h3M272 618.5h2M274 619.5h3M277 620.5h4M281 621.5h3M284 622.5h2M286 623.5h1M287 624.5h2M289 625.5h1M290 626.5h1M291 627.5h2M293 628.5h1M294 629.5h2M296 630.5h2M298 631.5h1M299 632.5h2M301 633.5h1M302 634.5h7M309 635.5h12M321 634.5h4M325 633.5h32M357 634.5h4M361 635.5h4M365 636.5h3M368 637.5h2M370 638.5h7M377 639.5h4M381 640.5h4M385 641.5h12M397 642.5h4M401 643.5h3M404 644.5h2M406 645.5h2M408 646.5h2M410 647.5h3M413 648.5h3M416 649.5h2M418 650.5h2M420 651.5h2M422 652.5h3M425 653.5h3M428 654.5h2M430 655.5h7M437 654.5h8M445 653.5h4M449 652.5h24M473 651.5h16M489 652.5h2M491 653.5h1M492 654.5h1M493 655.5h1M494.5 656v2M495.5 658v2M496.5 660v2M497.5 662v2M498 664.5h7M505 663.5h3M508 664.5h2M510 665.5h7M517 664.5h8M525 663.5h4M529 662.5h2M531 661.5h2M533 660.5h1M534 659.5h1M535 658.5h2M537 657.5h1M538 656.5h1M539 655.5h2M541 654.5h1M542 653.5h1M543 652.5h2M545 651.5h1M546 650.5h3M549 649.5h4M553 648.5h4M557 647.5h4M561 648.5h7M568 647.5h2M570 646.5h3M573 645.5h3M576 644.5h2M578 643.5h3M581 642.5h4M585 641.5h3M588 640.5h2M590 639.5h3M593 638.5h4M597 637.5h3M600 636.5h2M602 635.5h2M604 634.5h2M606 633.5h2M608 632.5h2M610 631.5h3M613 630.5h3M616 629.5h2M618 628.5h3M621 627.5h3M624 626.5h2M626 625.5h3M629 624.5h4M633 623.5h12M645 624.5h3M648 625.5h2M650 626.5h3M653 627.5h3M656 628.5h2M658 629.5h3M661 630.5h4M665 631.5h4M669 632.5h4M673 633.5h8M681 634.5h4M685 635.5h4M689 636.5h4M693 637.5h7M700 638.5h2M702 639.5h2M704 640.5h2M706 641.5h3M709 642.5h3M712 643.5h2M714 644.5h2M716 645.5h2M718 646.5h2M720 647.5h2M722 648.5h3M725 649.5h4M729 650.5h3M732 651.5h2M734 652.5h7M741 651.5h4M745 650.5h3M748 649.5h2M750 648.5h3M753 647.5h4M757 646.5h4M761 645.5h8M769 644.5h4M773 643.5h4M777 642.5h8M785 641.5h4M789 640.5h6M795 639.5h1M796.5 637v2M797 636.5h1M798 635.5h1M799.5 633v2M800 632.5h1M801.5 630v2M802 629.5h1M803 628.5h1M804 627.5h1M805 626.5h1M806 625.5h1M807 624.5h1M808 623.5h1M809 622.5h1M810 621.5h3M813 620.5h4M817 621.5h4M821 622.5h4M825 623.5h4M829 624.5h3M832 625.5h2M834 626.5h3M837 627.5h3M840 628.5h2M842 629.5h3M845 628.5h4M849 627.5h4M853 628.5h16M869 627.5h7M876 626.5h2M878 625.5h3M881 624.5h16M897 623.5h16M913 624.5h3M916 625.5h2M918 626.5h2M920 627.5h2M922 628.5h2M924 629.5h2M926 630.5h2M928 631.5h2M930 632.5h3M933 633.5h4M937 634.5h4M941 635.5h4M945 636.5h8M953 637.5h4M957 638.5h4M961 639.5h4M965 640.5h3M968 641.5h2M970 642.5h2M972 643.5h2M974 644.5h3M977 645.5h4M981 646.5h4M985 647.5h4M989 648.5h3M992 649.5h2M994 650.5h2M996 651.5h2M998 652.5h3M1001 653.5h8M1009 654.5h16M1025 653.5h4M1029 652.5h8M1037 651.5h4M1041 652.5h28M1069 651.5h28M1097 652.5h4M1101 653.5h2M1103 654.5h1M1104 655.5h1M1105 656.5h1M1106 657.5h1"/>
<path fill="none" stroke="#ff0000" stroke-width="1" d="M0 622.5h2M2 621.5h1M3 620.5h2M5 619.5h1M6 618.5h2M8 617.5h2M10 616.5h3M13 615.5h4M17 614.5h12M29 615.5h2M31 616.5h2M33 617.5h1M34 618.5h1M35 619.5h2M37 620.5h1M38 621.5h1M39 622.5h2M41 623.5h1M42 624.5h1M43 625.5h1M44 626.5h1M45 627.5h1M46 628.5h1M47 629.5h2M49 630.5h1M50 631.5h2M52 632.5h2M54 633.5h2M56 634.5h2M58 635.5h3M61 636.5h4M65 635.5h4M69 634.5h3M72 633.5h2M74 632.5h2M76 631.5h2M78 630.5h2M80 629.5h2M82 628.5h2M84 627.5h2M86 626.5h2M88 625.5h2M90 624.5h2M92 623.5h2M94 622.5h3M97 621.5h4M101 620.5h4M105 619.5h8M113 620.5h3M116 621.5h2M118 622.5h2M120 623.5h2M122 624.5h2M124 625.5h2M126 626.5h1M127 627.5h2M129 628.5h1M130 629.5h2M132 630.5h2M134 631.5h1M135 632.5h2M137 633.5h1M138 634.5h2M140 635.5h2M142 636.5h1M143 637.5h2M145 638.5h1M146 639.5h1M147 640.5h2M149 641.5h1M150 642.5h1M151 643.5h2M153 644.5h1M154 645.5h1M155 646.5h2M157 647.5h1M158 648.5h1M159 649.5h2M161 650.5h1M162 651.5h2M164 652.5h2M166 653.5h2M168 654.5h2M170 655.5h3M173 656.5h3M176 655.5h2M178 654.5h3M181 653.5h3M184 652.5h2M186 651.5h3M189 650.5h3M192 649.5h2M194 648.5h2M196 647.5h2M198 646.5h1M199 645.5h2M201 644.5h1M202 643.5h2M204 642.5h2M206 641.5h1M207 640.5h2M209 639.5h1M210 638.5h2M212 637.5h2M214 636.5h2M216 635.5h2M218 634.5h2M220 633.5h2M222 632.5h2M224 631.5h2M226 630.5h2M228 629.5h2M230 628.5h2M232 627.5h2M234 626.5h3M237 625.5h3M240 624.5h2M242 623.5h3M245 622.5h4M249 621.5h3M252 620.5h2M254 619.5h7M261 618.5h4M265 617.5h8M273 618.5h8M281 619.5h7M288 620.5h2M290 621.5h3M293 622.5h3M296 623.5h2M298 624.5h2M300 625.5h2M302 626.5h3M305 627.5h3M308 628.5h2M310 629.5h3M313 630.5h4M317 631.5h4M321 632.5h4M325 633.5h36M361 634.5h8M369 635.5h4M373 636.5h8M381 637.5h8M389 638.5h4M393 639.5h4M397 640.5h4M401 641.5h8M409 642.5h3M412 643.5h2M414 644.5h3M417 645.5h4M421 646.5h3M424 647.5h2M426 648.5h3M429 649.5h4M433 650.5h4M437 651.5h8M445 652.5h48M493 653.5h3M496 654.5h2M498 655.5h3M501 656.5h3M504 657.5h2M506 658.5h3M509 659.5h3M512 660.5h2M514 661.5h3M517 662.5h8M525 663.5h4M529 662.5h7M536 661.5h2M538 660.5h2M540 659.5h2M542 658.5h3M545 657.5h3M548 656.5h2M550 655.5h3M553 654.5h3M556 653.5h2M558 652.5h3M561 651.5h4M565 650.5h3M568 649.5h2M570 648.5h3M573 647.5h4M577 646.5h4M581 645.5h4M585 644.5h4M589 643.5h4M593 642.5h4M597 641.5h4M601 640.5h4M605 639.5h4M609 638.5h3M612 637.5h2M614 636.5h3M617 635.5h3M620 634.5h2M622 633.5h3M625 632.5h3M628 631.5h2M630 630.5h3M633 629.5h4M637 628.5h4M641 627.5h4M645 626.5h12M657 627.5h8M665 628.5h4M669 629.5h8M677 630.5h4M681 631.5h4M685 632.5h8M693 633.5h4M697 634.5h4M701 635.5h4M705 636.5h4M709 637.5h4M713 638.5h3M716 639.5h2M718 640.5h3M721 641.5h3M724 642.5h2M726 643.5h3M729 644.5h3M732 645.5h2M734 646.5h3M737 647.5h4M741 648.5h4M745 649.5h8M753 648.5h8M761 647.5h8M769 646.5h8M777 645.5h4M781 644.5h8M789 643.5h4M793 642.5h4M797 641.5h3M800 640.5h2M802 639.5h1M803 638.5h2M805 637.5h1M806 636.5h2M808 635.5h2M810 634.5h1M811 633.5h2M813 632.5h1M814 631.5h2M816 630.5h2M818 629.5h2M820 628.5h2M822 627.5h3M825 626.5h16M841 627.5h16M857 628.5h16M873 627.5h12M885 626.5h8M893 625.5h8M901 624.5h20M921 625.5h4M925 626.5h4M929 627.5h3M932 628.5h2M934 629.5h3M937 630.5h4M941 631.5h4M945 632.5h8M953 633.5h4M957 634.5h4M961 635.5h4M965 636.5h4M969 637.5h3M972 638.5h2M974 639.5h3M977 640.5h4M981 641.5h4M985 642.5h4M989 643.5h4M993 644.5h3M996 645.5h2M998 646.5h2M1000 647.5h2M1002 648.5h3M1005 649.5h4M1009 650.5h4M1013 651.5h4M1017 652.5h48M1065 651.5h36M1101 652.5h2M1103 653.5h2M1105 654.5h1"/>
</g>
<clipPath id="cp3"><rect x="0" y="694" width="1193" height="138"/></clipPath>
<rect x="0" y="726" width="1193" height="1" fill="#000"/>
<rect x="0" y="800" width="1193" height="1" fill="#000"/>
<g clip-path="url(#cp3)">
<path fill="none" stroke="#0000ff" stroke-width="1" d="M0 710.5h1M1 711.5h1M2 712.5h1M3 711.5h2M5 710.5h1M6.5 709v2M7.5 711v2M8.5 713v2M9.5 715v2M10.5 716v2M11.5 714v2M12.5 712v2M13.5 710v2M14 709.5h2M16 710.5h2M18.5 711v2M19.5 713v4M20.5 717v3M21.5 720v4M22.5 724v3M23.5 727v4M24.5 731v4M25.5 735v4M26.5 739v9M27.5 748v15M28.5 763v20M29.5 783v26M30.5 809v13M31.5 817v3M32.5 814v3M33.5 811v3M34.5 809v2M35.5 811v3M36.5 814v4M37.5 818v3M38.5 821v2M39.5 819v2M40.5 816v3M41.5 814v2M42.5 812v2M43.5 809v3M44.5 807v2M45.5 805v2M46.5 803v2M47.5 800v3M48.5 794v6M49.5 789v5M50.5 782v7M51.5 774v8M52.5 767v7M53.5 759v8M54.5 752v7M55.5 745v7M56.5 738v7M57.5 732v6M58.5 727v5M59.5 725v2M60.5 723v2M61.5 721v2M62.5 719v2M63.5 717v2M64.5 715v2M65.5 713v2M66.5 711v2M66 713.5h1M67.5 714v4M68.5 718v5M69.5 723v4M70.5 727v3M71 730.5h1M72 731.5h1M73 732.5h1M74.5 732v2M75.5 728v4M76.5 724v4M77.5 720v4M78.5 717v3M79.5 715v2M80.5 713v2M81.5 711v2M82.5 709v2M83.5 710v2M84.5 712v2M85.5 714v2M86 716.5h1M87.5 714v2M88 713.5h1M89.5 711v2M90 710.5h1M91 709.5h2M93 708.5h1M94 707.5h5M98.5 708v2M99.5 710v4M100.5 714v6M101.5 720v6M102.5 726v3M102 725.5h1M103.5 719v6M104.5 715v4M105.5 713v2M106.5 712v5M107.5 717v10M108.5 727v9M109.5 736v7M110.5 743v4M111.5 747v4M112.5 751v4M113.5 755v5M114.5 760v4M115.5 764v6M116.5 770v7M117.5 777v6M118.5 783v5M119.5 788v3M120.5 791v2M121.5 793v3M122.5 796v2M123 797.5h10M133 798.5h4M137 799.5h2M138 800.5h1M139.5 801v3M140.5 804v4M141.5 808v3M142.5 811v3M143.5 814v3M144.5 817v3M145.5 820v3M146.5 823v2M146 822.5h1M147.5 817v5M148.5 812v5M149.5 807v5M150.5 803v4M151.5 800v3M152.5 796v4M153.5 793v3M154.5 791v2M155.5 793v2M156.5 795v3M157.5 798v2M158.5 800v2M159.5 798v2M160.5 795v3M161.5 793v2M162.5 791v2M162.5 793v3M163.5 796v10M164.5 806v8M165.5 814v6M166.5 820v4M167.5 816v5M168.5 811v5M169.5 800v11M170.5 784v16M171.5 756v28M172.5 728v28M173.5 711v17M174.5 702v9M175.5 705v5M176.5 710v8M177.5 718v10M178.5 728v7M179.5 735v3M180.5 738v4M181.5 742v3M182.5 745v3M183.5 748v2M184.5 750v3M185.5 753v2M186.5 755v2M187.5 753v2M188.5 750v3M189.5 748v2M190.5 744v4M191.5 739v5M192.5 734v5M193.5 729v5M194.5 724v5M195.5 719v5M196.5 715v4M197.5 710v5M198.5 707v3M199.5 709v2M200.5 711v2M201.5 713v2M202.5 715v2M203.5 713v2M204.5 711v2M205.5 709v2M206.5 707v2M207.5 708v2M208.5 710v2M209.5 712v2M210 714.5h2M212 715.5h2M214.5 715v2M215.5 713v2M216.5 711v2M217.5 709v2M218 708.5h1M219.5 706v2M220 705.5h1M221.5 703v2M222 702.5h2M224 703.5h2M226 704.5h7M233 705.5h1M234 706.5h1M235 707.5h1M236 708.5h1M237 709.5h1M238 710.5h1M239.5 711v2M240 713.5h1M241.5 714v2M242.5 715v2M243.5 712v3M244.5 708v4M245.5 705v3M246.5 703v2M247 703.5h1M248 704.5h2M250 705.5h1M251 706.5h1M252 707.5h1M253 708.5h1M254 709.5h2M256 708.5h2M258 707.5h1M259 708.5h2M261 709.5h1M262 710.5h1M263 711.5h1M264 712.5h1M265 713.5h1M266 714.5h1M267 715.5h2M269 716.5h1M270.5 717v2M271.5 719v2M272.5 721v2M273.5 723v2M274.5 725v2M275.5 722v3M276.5 718v4M277.5 715v3M278.5 713v2M279.5 714v2M280 716.5h1M281.5 717v2M282.5 719v2M283.5 721v2M284.5 723v2M285.5 725v2M286.5 727v4M287.5 731v7M288.5 738v7M289.5 745v6M290.5 751v6M291.5 757v4M292.5 761v3M293.5 764v3M294.5 767v4M295.5 771v4M296.5 775v5M297.5 780v4M298.5 784v4M299.5 788v2M300.5 790v3M301.5 793v2M302.5 795v2M302.5 790v5M303.5 777v13M304.5 762v15M305.5 746v16M306.5 738v8M307 738.5h2M309 739.5h2M310 738.5h1M311.5 735v3M312.5 731v4M313.5 728v3M314.5 726v2M315.5 728v2M316.5 730v2M317.5 732v2M318.5 731v4M319.5 724v7M320.5 716v8M321.5 708v8M322.5 704v4M323 705.5h2M325 706.5h1M326 707.5h1M327 706.5h2M329 705.5h1M330 704.5h1M331.5 705v2M332.5 707v2M333.5 709v2M334 711.5h1M335 712.5h1M336.5 713v2M337 715.5h1M338.5 715v2M339.5 712v3M340.5 710v2M341.5 707v3M342.5 705v2M343 706.5h1M344.5 707v2M345 709.5h1M346 710.5h1M347 709.5h1M348 708.5h1M349 707.5h1M350 706.5h1M351.5 707v2M352.5 709v2M353.5 711v2M354 713.5h1M355 712.5h1M356 711.5h1M357 710.5h1M358.5 709v4M359.5 713v6M360.5 719v7M361.5 726v8M362.5 734v4M363.5 738v2M364.5 740v2M365.5 742v2M366.5 743v2M367.5 740v3M368.5 738v2M369.5 735v3M370.5 733v2M371 733.5h1M372 732.5h2M374.5 731v3M375.5 734v6M376.5 740v6M377.5 746v6M378.5 752v3M379.5 748v4M380.5 744v4M381.5 740v4M382.5 738v2M382.5 740v2M383.5 742v7M384.5 749v8M385.5 757v7M386.5 764v4M386.5 762v2M387.5 750v12M388.5 742v8M389.5 736v6M390.5 730v6M391.5 727v3M392 726.5h2M394.5 725v4M395.5 729v6M396.5 735v6M397.5 741v6M398.5 747v5M399.5 752v2M400.5 754v2M401.5 756v2M402.5 758v6M403.5 764v9M404.5 773v8M405.5 781v9M406.5 790v6M407.5 796v2M408.5 798v2M409.5 800v2M410.5 802v2M411.5 804v2M412.5 806v3M413.5 809v2M414.5 811v2M414.5 808v3M415.5 800v8M416.5 792v8M417.5 784v8M418.5 779v5M419.5 782v5M420.5 787v5M421.5 792v5M422.5 797v4M423.5 801v3M424.5 804v4M425.5 808v3M426.5 811v2M427.5 808v3M428.5 804v4M429.5 801v3M430.5 799v2M431 799.5h1M432 798.5h2M434.5 788v10M435.5 770v18M436.5 755v15M437.5 745v10M438.5 739v6M439.5 741v2M440.5 743v3M441.5 746v2M442.5 748v2M443 748.5h1M444 747.5h1M445 746.5h1M446.5 744v2M447.5 741v3M448.5 738v3M449.5 735v3M450.5 733v2M451.5 735v2M452.5 737v2M453.5 739v2M454 741.5h2M456 742.5h2M458.5 740v4M459.5 732v8M460.5 725v7M461.5 719v6M462.5 716v3M463 716.5h2M465 717.5h2M467 716.5h1M468 715.5h1M469 714.5h1M470.5 713v6M471.5 719v10M472.5 729v10M473.5 739v10M474.5 749v5M474.5 747v2M475.5 733v14M476.5 722v11M477.5 712v10M478.5 707v5M478.5 712v4M479.5 716v18M480.5 734v16M481.5 750v15M482.5 765v8M483.5 758v10M484.5 749v9M485.5 744v5M486.5 742v2M487 741.5h1M488 742.5h2M490.5 743v8M491.5 751v16M492.5 767v18M493.5 785v21M494.5 806v11M495.5 817v2M496 819.5h1M497.5 820v2M498.5 817v6M499.5 807v10M500.5 791v16M501.5 769v22M502.5 755v14M503.5 747v8M504.5 740v7M505.5 732v8M506.5 728v4M506.5 732v3M507.5 735v13M508.5 748v14M509.5 762v13M510.5 775v7M511.5 765v11M512.5 754v11M513.5 743v11M514.5 737v6M515.5 740v4M516.5 744v4M517.5 748v4M518.5 752v3M519.5 751v2M520.5 748v3M521.5 746v2M522.5 744v2M522 746.5h1M523.5 747v4M524.5 751v5M525.5 756v4M526.5 760v3M527.5 754v6M528.5 749v5M529.5 743v6M530.5 737v6M531.5 730v7M532.5 723v7M533.5 716v7M534.5 712v4M535 713.5h1M536 714.5h1M537 715.5h1M538.5 715v2M539.5 711v4M540.5 708v3M541.5 704v4M542.5 702v2M542 704.5h1M543.5 705v6M544.5 711v5M545.5 716v6M546.5 722v4M547.5 726v2M548.5 728v3M549.5 731v2M550.5 733v2M551.5 731v2M552.5 729v2M553.5 727v2M554 726.5h1M555.5 727v2M556.5 729v2M557.5 731v2M558.5 733v2M559.5 735v3M560.5 738v3M561.5 741v3M562.5 744v2M563 746.5h1M564.5 747v2M565 749.5h1M566.5 748v3M567.5 743v5M568.5 739v4M569.5 734v5M570.5 730v4M571.5 728v2M572.5 726v2M573.5 724v2M574.5 722v2M575 722.5h1M576 721.5h2M578 720.5h1M579.5 718v2M580 717.5h1M581.5 715v2M582 714.5h1M583 713.5h1M584 712.5h1M585 711.5h1M586.5 710v2M587.5 712v2M588.5 714v2M589.5 716v2M590.5 718v2M591.5 720v2M592.5 722v2M593.5 724v2M594.5 726v2M594 725.5h1M595.5 719v6M596.5 714v5M597.5 708v6M598.5 705v3M599 706.5h1M600.5 707v2M601 709.5h1M602 710.5h1M603.5 708v2M604 707.5h1M605.5 705v2M606 704.5h2M608 703.5h2M610 702.5h5M615 703.5h6M621 702.5h2M622.5 703v2M623.5 705v4M624.5 709v4M625.5 713v4M626.5 717v3M627.5 713v4M628.5 709v4M629.5 705v4M630.5 703v2M631.5 705v2M632.5 707v2M633.5 709v2M634.5 711v2M635 713.5h1M636 714.5h1M637 715.5h1M638 716.5h1M639 717.5h1M640 718.5h1M641 719.5h1M642 720.5h2M644 721.5h2M646 722.5h2M647.5 723v2M648.5 725v6M649.5 731v6M650.5 737v3M651 739.5h1M652 738.5h2M654 737.5h1M655 736.5h1M656 735.5h1M657 734.5h1M658.5 733v3M659.5 736v5M660.5 741v4M661.5 745v5M662.5 750v3M663 752.5h2M665 751.5h2M666.5 749v2M667.5 744v5M668.5 739v5M669.5 734v5M670.5 731v3M671 731.5h2M673 732.5h2M675.5 730v2M676.5 728v2M677.5 726v2M678.5 725v4M679.5 729v6M680.5 735v6M681.5 741v6M682.5 747v5M683.5 752v4M684.5 756v4M685.5 760v4M686.5 764v2M686.5 760v4M687.5 748v12M688.5 737v11M689.5 725v12M690.5 719v6M691.5 720v2M692.5 722v2M693.5 724v2M694.5 726v4M695.5 730v6M696.5 736v6M697.5 742v6M698.5 748v7M699.5 755v6M700.5 761v6M701.5 767v6M702.5 773v4M703 775.5h1M704 774.5h1M705 773.5h1M706.5 772v2M707.5 774v3M708.5 777v3M709.5 780v3M710.5 783v3M711.5 786v4M712.5 790v4M713.5 794v4M714.5 798v2M715.5 795v3M716.5 791v4M717.5 788v3M718.5 786v2M719.5 784v2M720 783.5h1M721.5 781v2M722 780.5h1M723.5 781v2M724.5 783v2M725.5 785v2M726.5 787v4M727.5 791v7M728.5 798v7M729.5 805v7M730.5 812v4M730 811.5h1M731.5 803v8M732.5 795v8M733.5 787v8M734.5 783v4M735 783.5h4M738.5 779v4M739.5 771v8M740.5 763v8M741.5 755v8M742.5 747v8M743.5 741v6M744.5 735v6M745.5 729v6M746.5 724v5M747.5 719v5M748.5 715v4M749.5 710v5M750.5 707v3M751.5 709v3M752.5 712v3M753.5 715v3M754.5 718v2M755 720.5h1M756 721.5h1M757 722.5h1M758 723.5h1M759.5 721v2M760.5 719v2M761.5 717v2M762 716.5h1M763.5 714v2M764.5 712v2M765.5 710v2M766.5 709v2M767.5 711v2M768.5 713v2M769.5 715v2M770.5 716v2M771.5 713v3M772.5 709v4M773.5 706v3M774.5 704v2M775 704.5h1M776 703.5h2M778.5 702v2M779.5 704v2M780.5 706v3M781.5 709v2M782.5 711v2M783 712.5h2M785 711.5h2M786 712.5h1M787.5 713v2M788.5 715v2M789.5 717v2M790.5 719v5M791.5 724v7M792.5 731v7M793.5 738v7M794.5 745v4M794 744.5h1M795.5 734v10M796.5 724v10M797.5 714v10M798.5 709v5M799 709.5h1M800 710.5h2M802.5 710v2M803.5 708v2M804.5 706v2M805.5 704v2M806 703.5h3M809 702.5h2M810.5 703v3M811.5 706v6M812.5 712v6M813.5 718v6M814.5 724v6M815.5 730v7M816.5 737v7M817.5 744v7M818.5 751v4M819.5 751v2M820.5 749v2M821.5 747v2M822.5 744v3M823.5 741v3M824.5 737v4M825.5 734v3M826.5 732v2M826 734.5h1M827.5 735v5M828.5 740v6M829.5 746v5M830.5 751v3M831.5 750v2M832.5 748v2M833.5 746v2M834.5 744v2M835.5 746v4M836.5 750v4M837.5 754v4M838.5 758v2M838 757.5h1M839.5 752v5M840.5 748v4M841.5 743v5M842.5 738v5M843.5 733v5M844.5 728v5M845.5 723v5M846.5 720v3M847 720.5h2M849 719.5h2M850.5 720v2M851.5 722v6M852.5 728v5M853.5 733v6M854.5 739v3M855 742.5h2M857 743.5h1M858.5 742v3M859.5 736v6M860.5 731v5M861.5 725v6M862.5 720v5M863.5 716v4M864.5 711v5M865.5 707v4M866.5 704v3M867 704.5h4M871 705.5h1M872 706.5h1M873 707.5h1M874 708.5h3M877 709.5h2M879.5 707v2M880 706.5h1M881.5 704v2M882 703.5h5M886 704.5h1M887.5 705v2M888.5 707v3M889.5 710v2M890.5 712v2M891.5 710v2M892.5 708v2M893.5 706v2M894.5 704v2M895 704.5h2M897 703.5h2M898 704.5h1M899.5 705v2M900.5 707v2M901.5 709v2M902 711.5h1M903.5 712v2M904.5 714v2M905.5 716v2M906 718.5h1M907 717.5h2M909 716.5h1M910 715.5h2M912 714.5h2M914.5 713v2M915.5 715v2M916.5 717v3M917.5 720v2M918.5 722v4M919.5 726v6M920.5 732v5M921.5 737v6M922.5 743v5M923.5 748v5M924.5 753v5M925.5 758v5M926.5 763v5M927.5 768v5M928.5 773v6M929.5 779v5M930.5 784v3M930.5 782v2M931.5 774v8M932.5 765v9M933.5 757v8M934.5 752v5M935.5 754v3M936.5 757v4M937.5 761v3M938.5 764v2M938.5 761v3M939.5 753v8M940.5 744v9M941.5 736v8M942.5 731v5M943.5 733v3M944.5 736v4M945.5 740v3M946.5 743v2M946.5 741v2M947.5 735v6M948.5 729v6M949.5 723v6M950.5 719v4M951.5 723v7M952.5 730v8M953.5 738v7M954.5 745v4M955.5 749v2M956 751.5h1M957.5 752v2M958 754.5h1M959 755.5h1M960.5 756v2M961 758.5h1M962.5 757v3M963.5 751v6M964.5 745v6M965.5 739v6M966.5 736v3M966.5 739v4M967.5 743v14M968.5 757v13M969.5 770v14M970.5 784v7M971.5 777v9M972.5 768v9M973.5 759v9M974.5 754v5M975.5 758v6M976.5 764v6M977.5 770v6M978.5 776v3M978.5 774v2M979.5 765v9M980.5 757v8M981.5 748v9M982.5 743v5M983 742.5h1M984 741.5h1M985 740.5h1M986.5 739v7M987.5 746v12M988.5 758v12M989.5 770v12M990.5 782v6M991 787.5h1M992 786.5h2M994.5 785v5M995.5 790v9M996.5 799v10M997.5 809v9M998.5 818v5M998 817.5h1M999.5 806v11M1000.5 792v14M1001.5 776v16M1002.5 767v9M1003.5 770v5M1004.5 775v4M1005.5 779v5M1006.5 784v3M1007.5 782v3M1008.5 779v3M1009.5 776v3M1010.5 774v2M1011 774.5h1M1012 773.5h2M1014 772.5h3M1017 771.5h2M1018.5 769v2M1019.5 765v4M1020.5 760v5M1021.5 756v4M1022.5 751v5M1023.5 747v4M1024.5 742v5M1025.5 738v4M1026.5 734v4M1027.5 730v4M1028.5 727v3M1029.5 723v4M1030.5 721v2M1031 720.5h1M1032 719.5h1M1033 718.5h1M1034.5 717v2M1035.5 719v2M1036.5 721v2M1037.5 723v2M1038.5 725v3M1039.5 728v5M1040.5 733v5M1041.5 738v5M1042.5 743v3M1043 746.5h2M1045 747.5h1M1046.5 748v2M1047.5 750v2M1048.5 752v2M1049.5 754v2M1050.5 756v2M1050 755.5h1M1051.5 750v5M1052.5 744v6M1053.5 739v5M1054.5 736v3M1055.5 737v2M1056.5 739v2M1057.5 741v2M1058.5 742v2M1059.5 738v4M1060.5 735v3M1061.5 731v4M1062.5 729v2M1063.5 731v4M1064.5 735v4M1065.5 739v4M1066.5 743v2M1066.5 739v4M1067.5 729v10M1068.5 718v11M1069.5 708v10M1070.5 702v6M1071.5 707v8M1072.5 715v9M1073.5 724v8M1074.5 732v5M1075 735.5h1M1076 734.5h1M1077 733.5h1M1078.5 732v2M1079.5 734v3M1080.5 737v3M1081.5 740v3M1082.5 743v2M1083 745.5h2M1085 746.5h1M1086 747.5h1M1087.5 748v2M1088.5 750v2M1089.5 752v2M1090 754.5h1M1091.5 752v2M1092.5 750v2M1093.5 748v2M1094.5 747v7M1095.5 754v13M1096.5 767v14M1097.5 781v15M1098.5 796v10M1099.5 806v4M1100.5 810v4M1101.5 814v3M1102.5 817v2M1103.5 819v2M1104.5 821v2M1105 823.5h1"/>
<path fill="none" stroke="#ff0000" stroke-width="1" d="M0 713.5h2M2 712.5h2M4 711.5h2M6 710.5h1M7 711.5h2M9 712.5h2M11 713.5h3M14 712.5h3M17 713.5h2M19 714.5h2M21.5 715v2M22.5 717v2M23.5 719v2M24.5 721v3M25.5 724v4M26.5 728v4M27.5 732v8M28.5 740v10M29.5 750v10M30.5 760v8M31.5 768v6M32.5 774v6M33.5 780v6M34.5 786v7M35.5 793v6M36.5 799v7M37.5 806v8M38.5 814v4M39 816.5h2M41 815.5h1M42 814.5h1M43 813.5h2M45 812.5h1M46.5 810v2M47.5 807v3M48.5 805v2M49.5 802v3M50.5 798v4M51.5 793v5M52.5 789v4M53.5 784v5M54.5 778v6M55.5 773v5M56.5 768v5M57.5 762v6M58.5 757v5M59.5 752v5M60.5 746v6M61.5 741v5M62.5 736v5M63.5 732v4M64.5 727v5M65.5 723v4M66.5 720v3M67 720.5h1M68 721.5h2M70 722.5h1M71 723.5h2M73 724.5h1M74 725.5h1M75 726.5h2M77 727.5h1M78.5 725v2M79 724.5h1M80 723.5h1M81.5 721v2M82 720.5h1M83 719.5h1M84 718.5h1M85.5 716v2M86 715.5h1M87 714.5h1M88 713.5h1M89 712.5h2M91 711.5h1M92 710.5h2M94 709.5h3M97 708.5h2M99.5 709v2M100 711.5h1M101.5 712v2M102 714.5h2M104 715.5h2M106.5 716v2M107.5 718v3M108.5 721v2M109.5 723v3M110.5 726v3M111.5 729v3M112.5 732v3M113.5 735v3M114.5 738v4M115.5 742v6M116.5 748v6M117.5 754v5M118.5 759v6M119.5 765v5M120.5 770v5M121.5 775v4M122.5 779v4M123.5 783v4M124.5 787v3M125.5 790v3M126.5 793v2M127 795.5h2M129 796.5h1M130 797.5h5M135 798.5h4M139.5 799v2M140.5 801v2M141 803.5h1M142.5 804v2M143 806.5h1M144 807.5h1M145.5 808v2M146 810.5h1M147 811.5h1M148 812.5h1M149 811.5h1M150 810.5h2M152 809.5h1M153 808.5h1M154.5 806v2M155.5 804v2M156.5 802v2M157.5 800v2M158 799.5h1M159 798.5h1M160.5 796v2M161 795.5h1M162.5 794v2M163.5 796v3M164.5 799v2M165.5 801v2M166.5 803v2M167 805.5h4M170.5 801v4M171.5 793v8M172.5 785v8M173.5 777v8M174.5 770v7M175.5 762v8M176.5 754v8M177.5 746v8M178.5 740v6M179.5 734v6M180.5 729v5M181.5 726v3M182.5 728v3M183.5 731v4M184.5 735v3M185.5 738v3M186.5 741v2M187.5 743v3M188.5 746v2M189.5 748v2M190 748.5h1M191.5 746v2M192 745.5h1M193.5 743v2M194.5 739v4M195.5 736v3M196.5 732v4M197.5 729v3M198.5 727v2M199.5 724v3M200.5 722v2M201.5 719v3M202.5 717v2M203.5 715v2M204.5 713v2M205.5 711v2M206 710.5h1M207 711.5h1M208 712.5h2M210 713.5h1M211 714.5h2M213 713.5h3M216 712.5h2M218 711.5h1M219 710.5h2M221 709.5h1M222 708.5h1M223 707.5h2M225 706.5h1M226 705.5h2M228 704.5h7M235 705.5h1M236 706.5h2M238 707.5h1M239 708.5h2M241 709.5h2M243 710.5h2M245 709.5h3M248 708.5h3M251 707.5h2M253 706.5h2M255 705.5h1M256 706.5h2M258 707.5h2M260 708.5h2M262 709.5h3M265 710.5h2M267 711.5h1M268 712.5h1M269 713.5h1M270 714.5h1M271 715.5h1M272 716.5h1M273 717.5h1M274 718.5h1M275 719.5h12M286 720.5h1M287.5 721v4M288.5 725v3M289.5 728v4M290.5 732v4M291.5 736v4M292.5 740v4M293.5 744v4M294.5 748v5M295.5 753v4M296.5 757v4M297.5 761v4M298.5 765v3M299.5 768v4M300.5 772v4M301.5 776v3M302.5 779v4M303.5 783v2M304.5 779v4M305.5 776v3M306.5 772v4M307.5 768v4M308.5 763v5M309.5 759v4M310.5 754v5M311.5 749v5M312.5 743v6M313.5 738v5M314.5 735v3M315 734.5h1M316 733.5h1M317 732.5h1M318.5 730v2M319.5 728v2M320.5 726v2M321.5 724v2M322.5 722v2M323.5 720v2M324.5 718v2M325.5 716v2M326.5 714v2M327.5 712v2M328.5 710v2M329.5 708v2M330.5 706v2M331 706.5h1M332 707.5h2M334 708.5h2M336 709.5h2M338 710.5h2M340 711.5h8M348 710.5h3M351 709.5h5M356 710.5h3M358 711.5h1M359.5 712v3M360.5 715v2M361.5 717v3M362.5 720v3M363.5 723v2M364.5 725v3M365.5 728v2M366.5 730v2M367.5 732v2M368.5 734v2M369.5 736v2M370 738.5h2M372 737.5h2M374 736.5h1M375 737.5h1M376 738.5h1M377 739.5h1M378 740.5h3M381 741.5h2M382 742.5h1M383.5 743v3M384.5 746v3M385.5 749v3M386.5 752v2M387.5 750v2M388.5 748v2M389.5 746v2M390 745.5h1M391.5 743v2M392 742.5h1M393.5 740v2M394 739.5h1M395 738.5h1M396 737.5h1M397 736.5h1M398.5 735v2M399.5 737v2M400.5 739v2M401.5 741v2M402.5 743v3M403.5 746v5M404.5 751v5M405.5 756v5M406.5 761v5M407.5 766v5M408.5 771v4M409.5 775v5M410.5 780v5M411.5 785v5M412.5 790v6M413.5 796v5M414.5 801v3M415 802.5h1M416.5 800v2M417 799.5h1M418 798.5h5M423 797.5h4M427.5 798v2M428 800.5h1M429.5 801v2M430 803.5h5M434.5 800v3M435.5 794v6M436.5 788v6M437.5 782v6M438.5 777v5M439.5 772v5M440.5 767v5M441.5 762v5M442.5 758v4M443.5 754v4M444.5 750v4M445.5 747v3M446 746.5h1M447 745.5h1M448 744.5h1M449 743.5h1M450 742.5h3M453 741.5h4M457 740.5h2M459.5 738v2M460.5 736v2M461.5 734v2M462 733.5h1M463.5 731v2M464.5 729v2M465.5 727v2M466.5 725v2M467.5 723v2M468.5 721v2M469.5 719v2M470.5 717v2M471.5 719v3M472.5 722v2M473.5 724v3M474.5 727v2M475 727.5h2M477 726.5h1M478.5 725v3M479.5 728v5M480.5 733v4M481.5 737v5M482.5 742v3M483 743.5h2M485 742.5h1M486.5 741v2M487.5 743v2M488.5 745v2M489.5 747v2M490.5 749v4M491.5 753v4M492.5 757v5M493.5 762v4M494.5 766v6M495.5 772v6M496.5 778v6M497.5 784v6M498.5 790v4M499 794.5h1M500.5 795v2M501.5 797v2M502.5 796v4M503.5 790v6M504.5 784v6M505.5 778v6M506.5 772v6M507.5 768v4M508.5 763v5M509.5 759v4M510.5 756v3M511.5 754v2M512.5 752v2M513.5 750v2M514.5 749v2M515.5 751v2M516.5 753v2M517.5 755v2M518.5 756v2M519.5 753v3M520.5 751v2M521.5 748v3M522.5 746v2M523.5 747v2M524 749.5h1M525 750.5h1M526.5 751v2M527.5 752v2M528.5 750v2M529.5 748v2M530.5 746v2M531.5 744v2M532.5 741v3M533.5 738v3M534.5 734v4M535.5 731v3M536.5 728v3M537.5 725v3M538.5 722v3M539.5 719v3M540.5 716v3M541.5 713v3M542.5 711v2M543 712.5h1M544 713.5h1M545 714.5h1M546 715.5h1M547 716.5h1M548.5 717v2M549 719.5h1M550 720.5h1M551.5 721v2M552 723.5h1M553.5 724v2M554.5 726v2M555 728.5h1M556.5 729v2M557 731.5h1M558 732.5h1M559.5 733v2M560 735.5h1M561 736.5h1M562 737.5h1M563.5 738v2M564 740.5h1M565 741.5h1M566.5 742v2M567 744.5h1M568.5 742v2M569 741.5h1M570 740.5h1M571.5 738v2M572.5 736v2M573.5 734v2M574.5 732v2M575.5 730v2M576.5 728v2M577.5 726v2M578 725.5h1M579.5 723v2M580 722.5h1M581 721.5h1M582 720.5h1M583 719.5h1M584 718.5h1M585 717.5h2M587 716.5h1M588 715.5h1M589 714.5h1M590 715.5h2M592 716.5h1M593 717.5h2M595 718.5h1M596 717.5h2M598 716.5h2M600 715.5h2M602 714.5h1M603.5 712v2M604 711.5h1M605 710.5h1M606.5 708v2M607 707.5h1M608 706.5h2M610 705.5h2M612 704.5h2M614 703.5h9M623 704.5h1M624 705.5h1M625 706.5h1M626 707.5h1M627 708.5h3M630 709.5h4M634 710.5h3M637 711.5h2M639 712.5h1M640 713.5h1M641 714.5h1M642 715.5h1M643 716.5h1M644 717.5h1M645.5 718v2M646 720.5h1M647 721.5h1M648 722.5h1M649.5 723v2M650.5 725v2M651.5 727v2M652 729.5h1M653 730.5h1M654.5 731v2M655 733.5h1M656 734.5h1M657 735.5h1M658 736.5h1M659 737.5h2M661 738.5h1M662 739.5h1M663 740.5h1M664.5 741v2M665 743.5h1M666 744.5h1M667 745.5h2M669 744.5h2M671 743.5h1M672.5 741v2M673 740.5h1M674.5 738v2M675.5 736v2M676.5 734v2M677.5 732v2M678.5 730v2M679.5 729v2M680.5 731v2M681.5 733v3M682.5 736v2M683.5 738v3M684.5 741v2M685.5 743v2M686.5 745v2M687.5 747v2M688 747.5h1M689 746.5h2M691 745.5h1M692 744.5h1M693.5 742v2M694.5 740v2M695.5 738v2M696.5 736v2M697.5 734v2M698.5 733v3M699.5 736v4M700.5 740v4M701.5 744v4M702.5 748v5M703.5 753v4M704.5 757v4M705.5 761v4M706.5 765v4M707.5 769v2M708.5 771v3M709.5 774v2M710.5 776v2M711.5 778v2M712.5 780v2M713.5 782v2M714 784.5h1M715.5 785v2M716 787.5h2M718 788.5h3M721 787.5h2M723 786.5h2M725 785.5h1M726.5 786v2M727.5 788v2M728 790.5h1M729.5 791v2M730 793.5h1M731 794.5h2M733 795.5h3M736 794.5h3M738.5 792v2M739.5 787v5M740.5 783v4M741.5 778v5M742.5 772v6M743.5 766v6M744.5 760v6M745.5 754v6M746.5 748v6M747.5 742v6M748.5 737v5M749.5 731v6M750.5 727v4M751.5 724v3M752.5 721v3M753.5 718v3M754.5 716v2M755 716.5h2M757 717.5h4M761 718.5h2M763 719.5h1M764 718.5h1M765 717.5h2M767 716.5h1M768 715.5h1M769 714.5h1M770 713.5h2M772 712.5h1M773 711.5h1M774 710.5h2M776 709.5h2M778 708.5h2M780 707.5h5M785 708.5h1M786 709.5h1M787 710.5h1M788 711.5h1M789.5 712v2M790.5 714v2M791.5 716v2M792.5 718v2M793.5 720v2M794.5 722v2M795.5 724v2M796 726.5h1M797 725.5h2M799 724.5h1M800 723.5h2M802.5 721v2M803.5 718v3M804.5 715v3M805.5 712v3M806.5 710v2M807 709.5h1M808.5 707v2M809 706.5h1M810 705.5h1M811.5 706v2M812.5 708v2M813.5 710v2M814.5 712v3M815.5 715v4M816.5 719v4M817.5 723v4M818.5 727v4M819.5 731v4M820.5 735v4M821.5 739v2M822 741.5h2M824 742.5h1M825 743.5h8M833 742.5h2M835.5 743v2M836.5 745v2M837 747.5h1M838.5 748v2M839 750.5h1M840.5 748v2M841.5 746v2M842 745.5h1M843.5 743v2M844.5 741v2M845.5 739v2M846.5 737v2M847.5 735v2M848.5 732v3M849.5 730v2M850.5 728v2M851.5 726v2M852 727.5h1M853.5 728v2M854 730.5h1M855 731.5h1M856 732.5h1M857 733.5h1M858 734.5h1M859 735.5h1M860 736.5h1M861.5 736v2M862.5 734v2M863.5 731v3M864.5 729v2M865.5 727v2M866.5 724v3M867.5 721v3M868.5 717v4M869.5 714v3M870.5 712v2M871.5 710v2M872.5 708v2M873.5 706v2M874 705.5h2M876 706.5h2M878 707.5h3M881 706.5h2M883 705.5h5M888 706.5h6M894 707.5h4M898 706.5h3M901 705.5h2M903 706.5h1M904.5 707v2M905 709.5h1M906 710.5h1M907 711.5h1M908 712.5h1M909 713.5h2M911 714.5h1M912 715.5h1M913 716.5h2M915 717.5h2M917.5 718v2M918.5 720v2M919.5 722v2M920.5 724v2M921.5 726v2M922.5 728v4M923.5 732v4M924.5 736v4M925.5 740v4M926.5 744v5M927.5 749v4M928.5 753v4M929.5 757v4M930.5 761v4M931.5 765v2M932 766.5h1M933 767.5h2M935 768.5h4M938.5 766v2M939.5 762v4M940.5 757v5M941.5 753v4M942.5 750v3M943 750.5h1M944 749.5h2M946.5 747v2M947.5 743v4M948.5 739v4M949.5 735v4M950.5 733v2M951 734.5h1M952 735.5h1M953 736.5h1M954 737.5h2M956 738.5h2M958.5 739v2M959.5 741v3M960.5 744v4M961.5 748v3M962.5 751v2M963 751.5h2M965 750.5h1M966.5 749v2M967.5 751v3M968.5 754v2M969.5 756v3M970.5 759v2M971 760.5h2M973 759.5h2M974 760.5h1M975.5 761v4M976.5 765v3M977.5 768v4M978.5 772v2M979.5 768v4M980.5 765v3M981.5 761v4M982.5 759v2M983.5 757v2M984 756.5h1M985.5 754v2M986 753.5h1M987 754.5h1M988.5 755v2M989 757.5h1M990.5 758v2M991.5 760v3M992.5 763v3M993.5 766v3M994.5 769v6M995.5 775v10M996.5 785v9M997.5 794v5M998.5 796v2M999 795.5h1M1000 794.5h1M1001.5 792v2M1002 791.5h2M1004 792.5h2M1005 791.5h1M1006.5 787v4M1007.5 783v4M1008.5 779v4M1009.5 777v2M1010 777.5h5M1015.5 775v2M1016.5 773v2M1017.5 771v2M1018 770.5h1M1019.5 768v2M1020.5 766v2M1021.5 764v2M1022.5 762v2M1023.5 759v3M1024.5 756v3M1025.5 753v3M1026.5 749v4M1027.5 745v4M1028.5 741v4M1029.5 737v4M1030.5 734v3M1031.5 732v2M1032.5 729v3M1033.5 727v2M1034.5 725v2M1035 724.5h1M1036 723.5h1M1037 722.5h1M1038.5 721v2M1039.5 723v2M1040.5 725v2M1041.5 727v2M1042.5 729v3M1043.5 732v2M1044.5 734v2M1045.5 736v2M1046.5 738v3M1047.5 741v2M1048.5 743v3M1049.5 746v2M1050.5 748v2M1051 749.5h2M1053 748.5h3M1056 747.5h2M1058.5 745v2M1059.5 743v2M1060.5 740v3M1061.5 738v2M1062.5 736v2M1063 737.5h2M1065 738.5h1M1066.5 738v2M1067.5 735v3M1068.5 731v4M1069.5 728v3M1070.5 726v2M1071 726.5h2M1073 727.5h2M1075 726.5h2M1077 725.5h1M1078.5 724v2M1079.5 726v3M1080.5 729v4M1081.5 733v3M1082.5 736v2M1083 738.5h1M1084.5 739v2M1085 741.5h1M1086 742.5h1M1087.5 743v2M1088 745.5h1M1089.5 746v2M1090 748.5h3M1093 749.5h2M1094.5 750v2M1095.5 752v5M1096.5 757v4M1097.5 761v5M1098.5 766v5M1099.5 771v5M1100.5 776v6M1101.5 782v5M1102.5 787v6M1103.5 793v6M1104.5 799v6M1105.5 805v6M1106.5 811v4"/>
</g>
<rect x="1193" y="7" width="1" height="590" fill="#000"/>
<rect x="1193" y="601" width="1" height="89" fill="#000"/>
<rect x="1193" y="694" width="1" height="138" fill="#000"/>
<rect x="0" y="832" width="1248" height="1" fill="#000"/>
<rect x="0" y="597" width="1249" height="1" fill="#f0f0f0"/>
<rect x="0" y="598" width="1249" height="2" fill="#fff"/>
<rect x="0" y="599" width="1249" height="1" fill="#ececec"/>
<rect x="0" y="600" width="1249" height="1" fill="#696969"/>
<rect x="0" y="690" width="1249" height="1" fill="#f0f0f0"/>
<rect x="0" y="691" width="1249" height="2" fill="#fff"/>
<rect x="0" y="692" width="1249" height="1" fill="#ececec"/>
<rect x="0" y="693" width="1249" height="1" fill="#696969"/>
<rect x="1248" y="6" width="1" height="848" fill="#f0f0f0"/>
<rect x="0" y="0" width="1249" height="5" fill="#b9d1ea"/>
<rect x="0" y="5" width="1249" height="1" fill="#a0a0a0"/>
<rect x="0" y="6" width="1248" height="1" fill="#696969"/>
<rect x="1149" y="0" width="30" height="1" fill="#eef4fc"/>
<rect x="1149" y="1" width="30" height="1" fill="#6a7f9e"/>
<rect x="1148" y="0" width="1" height="1" fill="#6a7f9e"/>
<rect x="1179" y="0" width="1" height="1" fill="#6a7f9e"/>
<rect x="1183" y="0" width="30" height="1" fill="#eef4fc"/>
<rect x="1183" y="1" width="30" height="1" fill="#6a7f9e"/>
<rect x="1182" y="0" width="1" height="1" fill="#6a7f9e"/>
<rect x="1213" y="0" width="1" height="1" fill="#6a7f9e"/>
<rect x="1217" y="0" width="30" height="1" fill="#fcdcd2"/>
<rect x="1217" y="1" width="30" height="1" fill="#4a1220"/>
<rect x="1216" y="0" width="1" height="1" fill="#4a1220"/>
<rect x="1247" y="0" width="1" height="1" fill="#4a1220"/>
<rect x="0" y="853" width="1249" height="1" fill="#e3e3e3"/>
<rect x="0" y="854" width="1249" height="1" fill="#fafafa"/>
<rect x="0" y="855" width="1249" height="6" fill="#b9d1ea"/>
<rect x="0" y="861" width="1249" height="1" fill="#28b8d8"/>
<rect x="0" y="862" width="1249" height="1" fill="#000"/>
<rect x="0" y="863" width="1249" height="1" fill="#fafafa"/>
<rect x="0" y="864" width="1249" height="3" fill="#f0f0f0"/>
<rect x="0" y="11" width="248" height="1" fill="#404040"/>
<rect x="0" y="26" width="248" height="1" fill="#000"/>
<rect x="0" y="12" width="247" height="14" fill="#fff"/>
<rect x="0" y="12" width="8" height="14" fill="#c0c0c0"/>
<rect x="59" y="12" width="1" height="14" fill="#000"/>
<rect x="60" y="12" width="1" height="14" fill="#404040"/>
<rect x="61" y="12" width="8" height="14" fill="#c0c0c0"/>
<rect x="120" y="12" width="1" height="14" fill="#000"/>
<rect x="121" y="12" width="10" height="14" fill="#c0c0c0"/>
<rect x="131" y="12" width="51" height="14" fill="#ff0000"/>
<rect x="182" y="12" width="1" height="14" fill="#000"/>
<rect x="183" y="12" width="13" height="14" fill="#c0c0c0"/>
<rect x="196" y="12" width="51" height="14" fill="#ff0000"/>
<rect x="247" y="11" width="1" height="16" fill="#404040"/>
<text x="-0.4" y="23.0" text-anchor="start" style="fill:#000;stroke:#000;stroke-width:0.16px">L</text>
<text x="57.2" y="23.0" text-anchor="end" style="fill:#000;stroke:#000;stroke-width:0.16px">674.98</text>
<text x="61.0" y="23.0" text-anchor="start" style="fill:#000;stroke:#000;stroke-width:0.16px">T</text>
<text x="118.0" y="23.0" text-anchor="end" style="fill:#000;stroke:#000;stroke-width:0.16px">678.84</text>
<text x="121.5" y="23.0" text-anchor="start" style="fill:#000;stroke:#000;stroke-width:0.16px">N</text>
<text x="180.5" y="23.0" text-anchor="end" style="fill:#000;stroke:#000;stroke-width:0.16px">-1.89</text>
<text x="184.0" y="23.0" text-anchor="start" style="fill:#000;stroke:#000;stroke-width:0.16px">%</text>
<text x="245.5" y="23.0" text-anchor="end" style="fill:#000;stroke:#000;stroke-width:0.16px">-0.27</text>
<text x="1194.8" y="537.0" text-anchor="start" style="fill:#000;stroke:#000;stroke-width:0.16px">668.00</text>
<text x="1194.8" y="477.0" text-anchor="start" style="fill:#000;stroke:#000;stroke-width:0.16px">670.00</text>
<text x="1194.8" y="418.0" text-anchor="start" style="fill:#000;stroke:#000;stroke-width:0.16px">672.00</text>
<text x="1194.8" y="359.0" text-anchor="start" style="fill:#000;stroke:#000;stroke-width:0.16px">674.00</text>
<text x="1194.8" y="299.0" text-anchor="start" style="fill:#000;stroke:#000;stroke-width:0.16px">676.00</text>
<text x="1194.8" y="240.0" text-anchor="start" style="fill:#000;stroke:#000;stroke-width:0.16px">678.00</text>
<text x="1194.8" y="180.0" text-anchor="start" style="fill:#000;stroke:#000;stroke-width:0.16px">680.00</text>
<text x="1194.8" y="121.0" text-anchor="start" style="fill:#000;stroke:#000;stroke-width:0.16px">682.00</text>
<text x="1194.8" y="62.0" text-anchor="start" style="fill:#000;stroke:#000;stroke-width:0.16px">684.00</text>
<rect x="1194" y="142" width="54" height="15" fill="#c0c0c0"/>
<text x="1194.8" y="153.0" text-anchor="start" style="fill:#0000ff;stroke:#0000ff;stroke-width:0.16px">680.92</text>
<rect x="1194" y="180" width="54" height="14" fill="#c0c0c0"/>
<text x="1194.8" y="191.0" text-anchor="start" style="fill:#000;stroke:#000;stroke-width:0.16px">679.63</text>
<rect x="1194" y="329" width="54" height="14" fill="#c0c0c0"/>
<text x="1194.8" y="340.0" text-anchor="start" style="fill:#ff0000;stroke:#ff0000;stroke-width:0.16px">674.61</text>
<clipPath id="cp4"><rect x="1194" y="601" width="60" height="90"/></clipPath>
<g clip-path="url(#cp4)"><text x="1194.8" y="606.0" text-anchor="start" style="fill:#000;stroke:#000;stroke-width:0.16px">2.00</text></g>
<text x="1194.8" y="632.0" text-anchor="start" style="fill:#000;stroke:#000;stroke-width:0.16px">1.00</text>
<rect x="1194" y="646" width="54" height="20" fill="#c0c0c0"/>
<rect x="1197" y="649" width="2" height="1" fill="#ff0000"/>
<rect x="1206" y="649" width="3" height="1" fill="#ff0000"/>
<rect x="1211" y="649" width="4" height="1" fill="#ff0000"/>
<text x="1194.8" y="661.0" text-anchor="start" style="fill:#0000ff;stroke:#0000ff;stroke-width:0.16px">-0.06</text>
<text x="1194.8" y="706.0" text-anchor="start" style="fill:#000;stroke:#000;stroke-width:0.16px">100.00</text>
<text x="1194.8" y="767.0" text-anchor="start" style="fill:#000;stroke:#000;stroke-width:0.16px">50.00</text>
<rect x="1194" y="808" width="54" height="23" fill="#c0c0c0"/>
<clipPath id="cp5"><rect x="1194" y="808" width="60" height="9"/></clipPath>
<g clip-path="url(#cp5)"><text x="1194.8" y="818.6" text-anchor="start" style="fill:#ff0000;stroke:#ff0000;stroke-width:0.16px">7.29</text></g>
<text x="1194.8" y="828.0" text-anchor="start" style="fill:#0000ff;stroke:#0000ff;stroke-width:0.16px">0.51</text>
<text x="30.5" y="843.0" text-anchor="middle" style="fill:#000;stroke:#000;stroke-width:0.16px">13</text>
<text x="78.5" y="843.0" text-anchor="middle" style="fill:#000;stroke:#000;stroke-width:0.16px">14</text>
<text x="126.5" y="843.0" text-anchor="middle" style="fill:#000;stroke:#000;stroke-width:0.16px">15</text>
<text x="198.5" y="843.0" text-anchor="middle" style="fill:#000;stroke:#000;stroke-width:0.16px">10</text>
<text x="246.5" y="843.0" text-anchor="middle" style="fill:#000;stroke:#000;stroke-width:0.16px">11</text>
<text x="294.5" y="843.0" text-anchor="middle" style="fill:#000;stroke:#000;stroke-width:0.16px">12</text>
<text x="342.5" y="843.0" text-anchor="middle" style="fill:#000;stroke:#000;stroke-width:0.16px">13</text>
<text x="390.5" y="843.0" text-anchor="middle" style="fill:#000;stroke:#000;stroke-width:0.16px">14</text>
<text x="438.5" y="843.0" text-anchor="middle" style="fill:#000;stroke:#000;stroke-width:0.16px">15</text>
<text x="510.5" y="843.0" text-anchor="middle" style="fill:#000;stroke:#000;stroke-width:0.16px">10</text>
<text x="558.5" y="843.0" text-anchor="middle" style="fill:#000;stroke:#000;stroke-width:0.16px">11</text>
<text x="606.5" y="843.0" text-anchor="middle" style="fill:#000;stroke:#000;stroke-width:0.16px">12</text>
<text x="654.5" y="843.0" text-anchor="middle" style="fill:#000;stroke:#000;stroke-width:0.16px">13</text>
<text x="702.5" y="843.0" text-anchor="middle" style="fill:#000;stroke:#000;stroke-width:0.16px">14</text>
<text x="750.5" y="843.0" text-anchor="middle" style="fill:#000;stroke:#000;stroke-width:0.16px">15</text>
<text x="822.5" y="843.0" text-anchor="middle" style="fill:#000;stroke:#000;stroke-width:0.16px">10</text>
<text x="870.5" y="843.0" text-anchor="middle" style="fill:#000;stroke:#000;stroke-width:0.16px">11</text>
<text x="918.5" y="843.0" text-anchor="middle" style="fill:#000;stroke:#000;stroke-width:0.16px">12</text>
<text x="966.5" y="843.0" text-anchor="middle" style="fill:#000;stroke:#000;stroke-width:0.16px">13</text>
<text x="1014.5" y="843.0" text-anchor="middle" style="fill:#000;stroke:#000;stroke-width:0.16px">14</text>
<text x="1062.5" y="843.0" text-anchor="middle" style="fill:#000;stroke:#000;stroke-width:0.16px">15</text>
<text x="1134.5" y="843.0" text-anchor="middle" style="fill:#000;stroke:#000;stroke-width:0.16px">10</text>
<text x="1182.5" y="843.0" text-anchor="middle" style="fill:#000;stroke:#000;stroke-width:0.16px">11</text>
<text x="175.5" y="852.0" text-anchor="start" style="fill:#000;stroke:#000;stroke-width:0.16px">11-24 Monday</text>
<text x="487.5" y="852.0" text-anchor="start" style="fill:#000;stroke:#000;stroke-width:0.16px">11-25 Tuesday</text>
<text x="799.5" y="852.0" text-anchor="start" style="fill:#000;stroke:#000;stroke-width:0.16px">11-26 Wednesday</text>
<text x="1111.5" y="852.0" text-anchor="start" style="fill:#000;stroke:#000;stroke-width:0.16px">11-27 Thursday</text>
<text x="441.5" y="243.0" text-anchor="start" style="fill:#000;stroke:#000;stroke-width:0" class="cj">一样我们展开5分钟k线看看，也一样画三条线</text>
<text x="770.0" y="284.0" text-anchor="start" style="fill:#000;stroke:#000;stroke-width:0" class="big">676.21</text>
<text x="818.0" y="314.5" text-anchor="start" style="fill:#000;stroke:#000;stroke-width:0" class="big">675.94</text>
<text x="802.0" y="347.0" text-anchor="start" style="fill:#000;stroke:#000;stroke-width:0" class="big">675.00</text>
</svg></body></html>
